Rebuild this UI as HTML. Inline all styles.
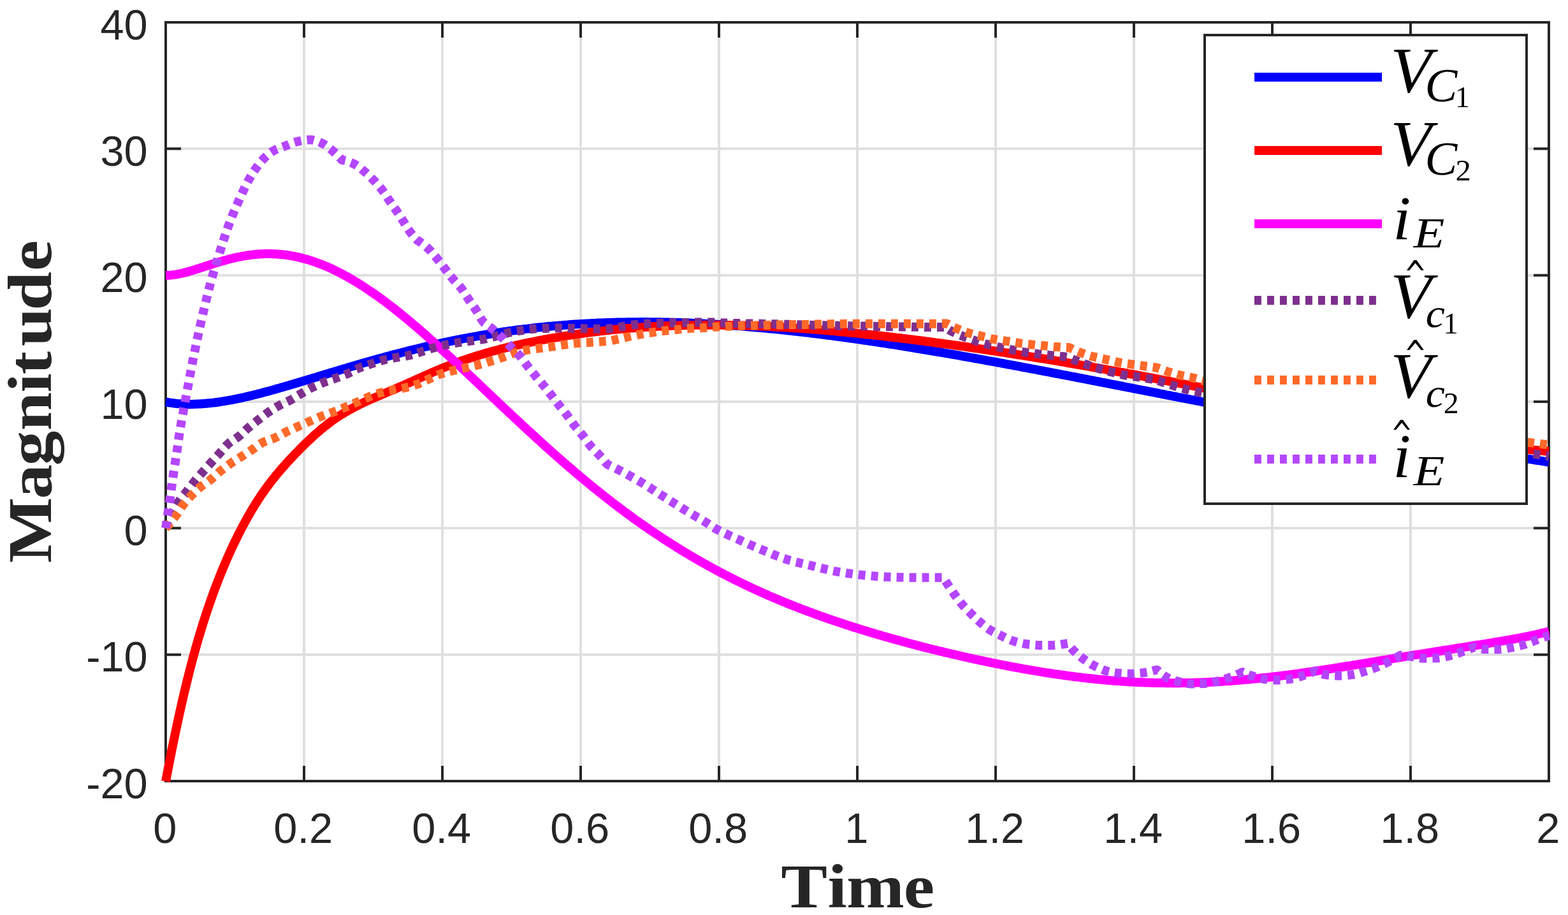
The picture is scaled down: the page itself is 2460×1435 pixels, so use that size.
<!DOCTYPE html>
<html lang="en"><head><meta charset="utf-8"><title>Magnitude vs Time</title>
<style>html,body{margin:0;padding:0;background:#fff;}body{width:2460px;height:1435px;overflow:hidden;}svg{display:block;}.tk{font-family:"Liberation Sans",Arial,Helvetica,sans-serif;font-size:66.7px;fill:#262626;}.lb{font-family:"Liberation Serif","Times New Roman",serif;font-weight:bold;fill:#262626;font-kerning:none;}.mi{font-family:"Liberation Serif","Times New Roman",serif;font-style:italic;fill:#000;}.mr{font-family:"Liberation Serif","Times New Roman",serif;fill:#000;}.mh{font-family:"DejaVu Sans","Liberation Sans",sans-serif;fill:#000;}</style></head><body>
<svg width="2460" height="1435" viewBox="0 0 2460 1435">
<rect x="0" y="0" width="2460" height="1435" fill="#ffffff"/>
<path d="M260.00,35 V1225 M477.00,35 V1225 M694.00,35 V1225 M911.00,35 V1225 M1128.00,35 V1225 M1345.00,35 V1225 M1562.00,35 V1225 M1779.00,35 V1225 M1996.00,35 V1225 M2213.00,35 V1225 M2430.00,35 V1225 M260,35.00 H2430 M260,233.33 H2430 M260,431.67 H2430 M260,630.00 H2430 M260,828.33 H2430 M260,1026.67 H2430 M260,1225.00 H2430" stroke="#dfdfdf" stroke-width="4" fill="none"/>
<path d="M260.00,1225 v-24.0 M260.00,35 v24.0 M477.00,1225 v-24.0 M477.00,35 v24.0 M694.00,1225 v-24.0 M694.00,35 v24.0 M911.00,1225 v-24.0 M911.00,35 v24.0 M1128.00,1225 v-24.0 M1128.00,35 v24.0 M1345.00,1225 v-24.0 M1345.00,35 v24.0 M1562.00,1225 v-24.0 M1562.00,35 v24.0 M1779.00,1225 v-24.0 M1779.00,35 v24.0 M1996.00,1225 v-24.0 M1996.00,35 v24.0 M2213.00,1225 v-24.0 M2213.00,35 v24.0 M2430.00,1225 v-24.0 M2430.00,35 v24.0 M260,35.00 h24.0 M2430,35.00 h-24.0 M260,233.33 h24.0 M2430,233.33 h-24.0 M260,431.67 h24.0 M2430,431.67 h-24.0 M260,630.00 h24.0 M2430,630.00 h-24.0 M260,828.33 h24.0 M2430,828.33 h-24.0 M260,1026.67 h24.0 M2430,1026.67 h-24.0 M260,1225.00 h24.0 M2430,1225.00 h-24.0" stroke="#262626" stroke-width="4" fill="none"/>
<rect x="260" y="35" width="2170" height="1190" fill="none" stroke="#262626" stroke-width="4"/>
<text class="tk" x="231.6" y="61.6" text-anchor="end">40</text>
<text class="tk" x="231.6" y="259.9" text-anchor="end">30</text>
<text class="tk" x="231.6" y="458.3" text-anchor="end">20</text>
<text class="tk" x="231.6" y="656.6" text-anchor="end">10</text>
<text class="tk" x="231.6" y="854.9" text-anchor="end">0</text>
<text class="tk" x="231.6" y="1053.3" text-anchor="end">-10</text>
<text class="tk" x="231.6" y="1251.6" text-anchor="end">-20</text>
<text class="tk" x="258.7" y="1321.6" text-anchor="middle">0</text>
<text class="tk" x="475.7" y="1321.6" text-anchor="middle">0.2</text>
<text class="tk" x="692.7" y="1321.6" text-anchor="middle">0.4</text>
<text class="tk" x="909.7" y="1321.6" text-anchor="middle">0.6</text>
<text class="tk" x="1126.7" y="1321.6" text-anchor="middle">0.8</text>
<text class="tk" x="1343.7" y="1321.6" text-anchor="middle">1</text>
<text class="tk" x="1560.7" y="1321.6" text-anchor="middle">1.2</text>
<text class="tk" x="1777.7" y="1321.6" text-anchor="middle">1.4</text>
<text class="tk" x="1994.7" y="1321.6" text-anchor="middle">1.6</text>
<text class="tk" x="2211.7" y="1321.6" text-anchor="middle">1.8</text>
<text class="tk" x="2428.7" y="1321.6" text-anchor="middle">2</text>
<text class="lb" transform="translate(0,1423) scale(1.112,1)" font-size="98" x="1101.80 1167.63 1194.15 1274.91" y="0">Time</text>
<text class="lb" transform="translate(80,881) rotate(-90) scale(1.112,1)" font-size="98" x="-1.66 88.58 135.52 184.71 238.49 264.12 303.69 354.59 410.16" y="0">Magnitude</text>
<g fill="none" stroke-linejoin="round" stroke-linecap="butt" stroke-width="14.0">
<path d="M260.0,630.5 L263.0,631.0 L266.0,631.5 L269.0,631.9 L272.0,632.3 L275.0,632.7 L278.0,633.0 L281.0,633.2 L284.0,633.5 L287.0,633.6 L290.0,633.8 L293.0,633.8 L296.0,633.9 L299.0,633.9 L302.0,633.9 L305.0,633.8 L308.0,633.7 L311.0,633.6 L314.0,633.5 L317.0,633.3 L320.0,633.1 L323.0,632.8 L326.0,632.5 L329.0,632.2 L332.0,631.9 L335.0,631.6 L338.0,631.2 L341.0,630.8 L344.0,630.3 L347.0,629.9 L350.0,629.4 L353.0,628.9 L356.0,628.4 L359.0,627.9 L362.0,627.3 L365.0,626.8 L368.0,626.2 L371.1,625.6 L374.1,624.9 L377.1,624.3 L380.1,623.7 L383.1,623.0 L386.1,622.3 L389.1,621.6 L392.1,620.9 L395.1,620.2 L398.1,619.4 L401.1,618.7 L404.1,617.9 L407.1,617.2 L410.1,616.4 L413.1,615.6 L416.1,614.8 L419.1,614.0 L422.1,613.2 L425.1,612.4 L428.1,611.5 L431.1,610.7 L434.1,609.8 L437.1,609.0 L440.1,608.1 L443.1,607.3 L446.1,606.4 L449.1,605.5 L452.1,604.7 L455.1,603.8 L458.1,602.9 L461.1,602.0 L464.1,601.1 L467.1,600.2 L470.1,599.3 L473.1,598.4 L476.1,597.5 L479.1,596.6 L482.1,595.7 L485.1,594.8 L488.1,593.9 L491.1,593.0 L494.1,592.1 L497.1,591.2 L500.1,590.3 L503.1,589.3 L506.1,588.4 L509.1,587.5 L512.1,586.6 L515.1,585.7 L518.1,584.8 L521.1,583.9 L524.1,583.0 L527.1,582.1 L530.1,581.2 L533.1,580.3 L536.1,579.4 L539.1,578.5 L542.1,577.6 L545.1,576.7 L548.1,575.8 L551.1,574.9 L554.1,574.0 L557.1,573.1 L560.1,572.3 L563.1,571.4 L566.1,570.5 L569.1,569.6 L572.1,568.8 L575.1,567.9 L578.1,567.1 L581.1,566.2 L584.1,565.4 L587.2,564.5 L590.2,563.7 L593.2,562.8 L596.2,562.0 L599.2,561.2 L602.2,560.4 L605.2,559.5 L608.2,558.7 L611.2,557.9 L614.2,557.1 L617.2,556.3 L620.2,555.5 L623.2,554.8 L626.2,554.0 L629.2,553.2 L632.2,552.4 L635.2,551.7 L638.2,550.9 L641.2,550.1 L644.2,549.4 L647.2,548.7 L650.2,547.9 L653.2,547.2 L656.2,546.5 L659.2,545.7 L662.2,545.0 L665.2,544.3 L668.2,543.6 L671.2,542.9 L674.2,542.2 L677.2,541.5 L680.2,540.9 L683.2,540.2 L686.2,539.5 L689.2,538.9 L692.2,538.2 L695.2,537.6 L698.2,536.9 L701.2,536.3 L704.2,535.7 L707.2,535.1 L710.2,534.4 L713.2,533.8 L716.2,533.2 L719.2,532.6 L722.2,532.0 L725.2,531.5 L728.2,530.9 L731.2,530.3 L734.2,529.8 L737.2,529.2 L740.2,528.6 L743.2,528.1 L746.2,527.6 L749.2,527.0 L752.2,526.5 L755.2,526.0 L758.2,525.5 L761.2,525.0 L764.2,524.5 L767.2,524.0 L770.2,523.5 L773.2,523.0 L776.2,522.6 L779.2,522.1 L782.2,521.6 L785.2,521.2 L788.2,520.7 L791.2,520.3 L794.2,519.9 L797.2,519.4 L800.2,519.0 L803.3,518.6 L806.3,518.2 L809.3,517.8 L812.3,517.4 L815.3,517.0 L818.3,516.7 L821.3,516.3 L824.3,515.9 L827.3,515.6 L830.3,515.2 L833.3,514.9 L836.3,514.5 L839.3,514.2 L842.3,513.8 L845.3,513.5 L848.3,513.2 L851.3,512.9 L854.3,512.6 L857.3,512.3 L860.3,512.0 L863.3,511.7 L866.3,511.5 L869.3,511.2 L872.3,510.9 L875.3,510.7 L878.3,510.4 L881.3,510.2 L884.3,509.9 L887.3,509.7 L890.3,509.5 L893.3,509.2 L896.3,509.0 L899.3,508.8 L902.3,508.6 L905.3,508.4 L908.3,508.2 L911.3,508.0 L914.3,507.9 L917.3,507.7 L920.3,507.5 L923.3,507.4 L926.3,507.2 L929.3,507.0 L932.3,506.9 L935.3,506.8 L938.3,506.6 L941.3,506.5 L944.3,506.4 L947.3,506.3 L950.3,506.2 L953.3,506.1 L956.3,506.0 L959.3,505.9 L962.3,505.8 L965.3,505.7 L968.3,505.6 L971.3,505.6 L974.3,505.5 L977.3,505.4 L980.3,505.4 L983.3,505.3 L986.3,505.3 L989.3,505.3 L992.3,505.2 L995.3,505.2 L998.3,505.2 L1001.3,505.2 L1004.3,505.1 L1007.3,505.1 L1010.3,505.1 L1013.3,505.1 L1016.3,505.2 L1019.3,505.2 L1022.4,505.2 L1025.4,505.2 L1028.4,505.3 L1031.4,505.3 L1034.4,505.3 L1037.4,505.4 L1040.4,505.4 L1043.4,505.5 L1046.4,505.5 L1049.4,505.6 L1052.4,505.7 L1055.4,505.8 L1058.4,505.8 L1061.4,505.9 L1064.4,506.0 L1067.4,506.1 L1070.4,506.2 L1073.4,506.3 L1076.4,506.4 L1079.4,506.5 L1082.4,506.6 L1085.4,506.8 L1088.4,506.9 L1091.4,507.0 L1094.4,507.2 L1097.4,507.3 L1100.4,507.5 L1103.4,507.6 L1106.4,507.8 L1109.4,507.9 L1112.4,508.1 L1115.4,508.2 L1118.4,508.4 L1121.4,508.6 L1124.4,508.8 L1127.4,509.0 L1130.4,509.1 L1133.4,509.3 L1136.4,509.5 L1139.4,509.7 L1142.4,509.9 L1145.4,510.2 L1148.4,510.4 L1151.4,510.6 L1154.4,510.8 L1157.4,511.0 L1160.4,511.3 L1163.4,511.5 L1166.4,511.7 L1169.4,512.0 L1172.4,512.2 L1175.4,512.5 L1178.4,512.7 L1181.4,513.0 L1184.4,513.2 L1187.4,513.5 L1190.4,513.8 L1193.4,514.0 L1196.4,514.3 L1199.4,514.6 L1202.4,514.9 L1205.4,515.2 L1208.4,515.4 L1211.4,515.7 L1214.4,516.0 L1217.4,516.3 L1220.4,516.6 L1223.4,516.9 L1226.4,517.3 L1229.4,517.6 L1232.4,517.9 L1235.4,518.2 L1238.5,518.5 L1241.5,518.9 L1244.5,519.2 L1247.5,519.5 L1250.5,519.9 L1253.5,520.2 L1256.5,520.5 L1259.5,520.9 L1262.5,521.2 L1265.5,521.6 L1268.5,521.9 L1271.5,522.3 L1274.5,522.7 L1277.5,523.0 L1280.5,523.4 L1283.5,523.8 L1286.5,524.1 L1289.5,524.5 L1292.5,524.9 L1295.5,525.3 L1298.5,525.7 L1301.5,526.0 L1304.5,526.4 L1307.5,526.8 L1310.5,527.2 L1313.5,527.6 L1316.5,528.0 L1319.5,528.4 L1322.5,528.8 L1325.5,529.2 L1328.5,529.6 L1331.5,530.1 L1334.5,530.5 L1337.5,530.9 L1340.5,531.3 L1343.5,531.7 L1346.5,532.2 L1349.5,532.6 L1352.5,533.0 L1355.5,533.5 L1358.5,533.9 L1361.5,534.3 L1364.5,534.8 L1367.5,535.2 L1370.5,535.7 L1373.5,536.1 L1376.5,536.6 L1379.5,537.0 L1382.5,537.5 L1385.5,537.9 L1388.5,538.4 L1391.5,538.8 L1394.5,539.3 L1397.5,539.8 L1400.5,540.2 L1403.5,540.7 L1406.5,541.2 L1409.5,541.7 L1412.5,542.1 L1415.5,542.6 L1418.5,543.1 L1421.5,543.6 L1424.5,544.1 L1427.5,544.5 L1430.5,545.0 L1433.5,545.5 L1436.5,546.0 L1439.5,546.5 L1442.5,547.0 L1445.5,547.5 L1448.5,548.0 L1451.5,548.5 L1454.6,549.0 L1457.6,549.5 L1460.6,550.0 L1463.6,550.5 L1466.6,551.0 L1469.6,551.5 L1472.6,552.0 L1475.6,552.5 L1478.6,553.0 L1481.6,553.6 L1484.6,554.1 L1487.6,554.6 L1490.6,555.1 L1493.6,555.6 L1496.6,556.2 L1499.6,556.7 L1502.6,557.2 L1505.6,557.7 L1508.6,558.3 L1511.6,558.8 L1514.6,559.3 L1517.6,559.9 L1520.6,560.4 L1523.6,560.9 L1526.6,561.5 L1529.6,562.0 L1532.6,562.5 L1535.6,563.1 L1538.6,563.6 L1541.6,564.2 L1544.6,564.7 L1547.6,565.3 L1550.6,565.8 L1553.6,566.3 L1556.6,566.9 L1559.6,567.4 L1562.6,568.0 L1565.6,568.5 L1568.6,569.1 L1571.6,569.6 L1574.6,570.2 L1577.6,570.8 L1580.6,571.3 L1583.6,571.9 L1586.6,572.4 L1589.6,573.0 L1592.6,573.5 L1595.6,574.1 L1598.6,574.7 L1601.6,575.2 L1604.6,575.8 L1607.6,576.4 L1610.6,576.9 L1613.6,577.5 L1616.6,578.0 L1619.6,578.6 L1622.6,579.2 L1625.6,579.7 L1628.6,580.3 L1631.6,580.9 L1634.6,581.5 L1637.6,582.0 L1640.6,582.6 L1643.6,583.2 L1646.6,583.7 L1649.6,584.3 L1652.6,584.9 L1655.6,585.5 L1658.6,586.0 L1661.6,586.6 L1664.6,587.2 L1667.6,587.8 L1670.7,588.3 L1673.7,588.9 L1676.7,589.5 L1679.7,590.1 L1682.7,590.7 L1685.7,591.2 L1688.7,591.8 L1691.7,592.4 L1694.7,593.0 L1697.7,593.5 L1700.7,594.1 L1703.7,594.7 L1706.7,595.3 L1709.7,595.9 L1712.7,596.5 L1715.7,597.0 L1718.7,597.6 L1721.7,598.2 L1724.7,598.8 L1727.7,599.4 L1730.7,600.0 L1733.7,600.5 L1736.7,601.1 L1739.7,601.7 L1742.7,602.3 L1745.7,602.9 L1748.7,603.5 L1751.7,604.0 L1754.7,604.6 L1757.7,605.2 L1760.7,605.8 L1763.7,606.4 L1766.7,607.0 L1769.7,607.6 L1772.7,608.1 L1775.7,608.7 L1778.7,609.3 L1781.7,609.9 L1784.7,610.5 L1787.7,611.1 L1790.7,611.7 L1793.7,612.2 L1796.7,612.8 L1799.7,613.4 L1802.7,614.0 L1805.7,614.6 L1808.7,615.2 L1811.7,615.7 L1814.7,616.3 L1817.7,616.9 L1820.7,617.5 L1823.7,618.1 L1826.7,618.7 L1829.7,619.3 L1832.7,619.8 L1835.7,620.4 L1838.7,621.0 L1841.7,621.6 L1844.7,622.2 L1847.7,622.8 L1850.7,623.3 L1853.7,623.9 L1856.7,624.5 L1859.7,625.1 L1862.7,625.7 L1865.7,626.2 L1868.7,626.8 L1871.7,627.4 L1874.7,628.0 L1877.7,628.6 L1880.7,629.1 L1883.7,629.7 L1886.7,630.3 L1889.8,630.9 L1892.8,631.5 L1895.8,632.0 L1898.8,632.6 L1901.8,633.2 L1904.8,633.8 L1907.8,634.3 L1910.8,634.9 L1913.8,635.5 L1916.8,636.1 L1919.8,636.7 L1922.8,637.2 L1925.8,637.8 L1928.8,638.4 L1931.8,638.9 L1934.8,639.5 L1937.8,640.1 L1940.8,640.7 L1943.8,641.2 L1946.8,641.8 L1949.8,642.4 L1952.8,642.9 L1955.8,643.5 L1958.8,644.1 L1961.8,644.7 L1964.8,645.2 L1967.8,645.8 L1970.8,646.4 L1973.8,646.9 L1976.8,647.5 L1979.8,648.0 L1982.8,648.6 L1985.8,649.2 L1988.8,649.7 L1991.8,650.3 L1994.8,650.9 L1997.8,651.4 L2000.8,652.0 L2003.8,652.5 L2006.8,653.1 L2009.8,653.7 L2012.8,654.2 L2015.8,654.8 L2018.8,655.3 L2021.8,655.9 L2024.8,656.5 L2027.8,657.0 L2030.8,657.6 L2033.8,658.1 L2036.8,658.7 L2039.8,659.2 L2042.8,659.8 L2045.8,660.3 L2048.8,660.9 L2051.8,661.4 L2054.8,662.0 L2057.8,662.5 L2060.8,663.1 L2063.8,663.6 L2066.8,664.2 L2069.8,664.7 L2072.8,665.3 L2075.8,665.8 L2078.8,666.3 L2081.8,666.9 L2084.8,667.4 L2087.8,668.0 L2090.8,668.5 L2093.8,669.1 L2096.8,669.6 L2099.8,670.1 L2102.8,670.7 L2105.9,671.2 L2108.9,671.7 L2111.9,672.3 L2114.9,672.8 L2117.9,673.3 L2120.9,673.9 L2123.9,674.4 L2126.9,674.9 L2129.9,675.5 L2132.9,676.0 L2135.9,676.5 L2138.9,677.1 L2141.9,677.6 L2144.9,678.1 L2147.9,678.6 L2150.9,679.2 L2153.9,679.7 L2156.9,680.2 L2159.9,680.7 L2162.9,681.3 L2165.9,681.8 L2168.9,682.3 L2171.9,682.8 L2174.9,683.3 L2177.9,683.9 L2180.9,684.4 L2183.9,684.9 L2186.9,685.4 L2189.9,685.9 L2192.9,686.4 L2195.9,687.0 L2198.9,687.5 L2201.9,688.0 L2204.9,688.5 L2207.9,689.0 L2210.9,689.5 L2213.9,690.0 L2216.9,690.5 L2219.9,691.0 L2222.9,691.6 L2225.9,692.1 L2228.9,692.6 L2231.9,693.1 L2234.9,693.6 L2237.9,694.1 L2240.9,694.6 L2243.9,695.1 L2246.9,695.6 L2249.9,696.1 L2252.9,696.6 L2255.9,697.1 L2258.9,697.6 L2261.9,698.1 L2264.9,698.6 L2267.9,699.1 L2270.9,699.6 L2273.9,700.0 L2276.9,700.5 L2279.9,701.0 L2282.9,701.5 L2285.9,702.0 L2288.9,702.5 L2291.9,703.0 L2294.9,703.5 L2297.9,704.0 L2300.9,704.5 L2303.9,704.9 L2306.9,705.4 L2309.9,705.9 L2312.9,706.4 L2315.9,706.9 L2318.9,707.4 L2322.0,707.8 L2325.0,708.3 L2328.0,708.8 L2331.0,709.3 L2334.0,709.8 L2337.0,710.2 L2340.0,710.7 L2343.0,711.2 L2346.0,711.7 L2349.0,712.1 L2352.0,712.6 L2355.0,713.1 L2358.0,713.6 L2361.0,714.0 L2364.0,714.5 L2367.0,715.0 L2370.0,715.5 L2373.0,715.9 L2376.0,716.4 L2379.0,716.9 L2382.0,717.3 L2385.0,717.8 L2388.0,718.3 L2391.0,718.7 L2394.0,719.2 L2397.0,719.7 L2400.0,720.1 L2403.0,720.6 L2406.0,721.0 L2409.0,721.5 L2412.0,722.0 L2415.0,722.4 L2418.0,722.9 L2421.0,723.3 L2424.0,723.8 L2427.0,724.3 L2430.0,724.7" stroke="#0000ff"/>
<path d="M260.0,1225.5 L263.0,1209.6 L266.0,1194.1 L269.0,1178.9 L272.0,1164.1 L275.0,1149.6 L278.0,1135.5 L281.0,1121.7 L284.0,1108.2 L287.0,1095.1 L290.0,1082.4 L293.0,1070.0 L296.0,1057.9 L299.0,1046.1 L302.0,1034.7 L305.0,1023.7 L308.0,1012.9 L311.0,1002.5 L314.0,992.4 L317.0,982.6 L320.0,973.1 L323.0,963.8 L326.0,954.8 L329.0,946.1 L332.0,937.6 L335.0,929.3 L338.0,921.2 L341.0,913.4 L344.0,905.7 L347.0,898.2 L350.0,890.9 L353.0,883.7 L356.0,876.8 L359.0,870.0 L362.0,863.3 L365.0,856.8 L368.0,850.5 L371.1,844.3 L374.1,838.2 L377.1,832.3 L380.1,826.6 L383.1,821.0 L386.1,815.5 L389.1,810.1 L392.1,804.9 L395.1,799.8 L398.1,794.8 L401.1,790.0 L404.1,785.3 L407.1,780.7 L410.1,776.2 L413.1,771.9 L416.1,767.6 L419.1,763.5 L422.1,759.5 L425.1,755.5 L428.1,751.7 L431.1,747.9 L434.1,744.2 L437.1,740.7 L440.1,737.1 L443.1,733.7 L446.1,730.3 L449.1,726.9 L452.1,723.6 L455.1,720.4 L458.1,717.2 L461.1,714.0 L464.1,710.9 L467.1,707.8 L470.1,704.8 L473.1,701.8 L476.1,698.8 L479.1,695.8 L482.1,693.0 L485.1,690.1 L488.1,687.3 L491.1,684.5 L494.1,681.8 L497.1,679.2 L500.1,676.6 L503.1,674.0 L506.1,671.5 L509.1,669.1 L512.1,666.7 L515.1,664.4 L518.1,662.1 L521.1,659.9 L524.1,657.8 L527.1,655.7 L530.1,653.7 L533.1,651.8 L536.1,649.9 L539.1,648.1 L542.1,646.3 L545.1,644.6 L548.1,642.9 L551.1,641.2 L554.1,639.6 L557.1,638.0 L560.1,636.5 L563.1,635.0 L566.1,633.5 L569.1,632.1 L572.1,630.6 L575.1,629.2 L578.1,627.9 L581.1,626.5 L584.1,625.2 L587.2,623.9 L590.2,622.6 L593.2,621.3 L596.2,620.0 L599.2,618.7 L602.2,617.4 L605.2,616.2 L608.2,614.9 L611.2,613.6 L614.2,612.4 L617.2,611.1 L620.2,609.8 L623.2,608.5 L626.2,607.2 L629.2,605.9 L632.2,604.6 L635.2,603.3 L638.2,601.9 L641.2,600.6 L644.2,599.2 L647.2,597.9 L650.2,596.5 L653.2,595.2 L656.2,593.8 L659.2,592.5 L662.2,591.1 L665.2,589.8 L668.2,588.4 L671.2,587.1 L674.2,585.8 L677.2,584.5 L680.2,583.2 L683.2,581.9 L686.2,580.6 L689.2,579.4 L692.2,578.1 L695.2,576.9 L698.2,575.7 L701.2,574.5 L704.2,573.4 L707.2,572.2 L710.2,571.1 L713.2,570.0 L716.2,568.9 L719.2,567.8 L722.2,566.7 L725.2,565.7 L728.2,564.6 L731.2,563.6 L734.2,562.6 L737.2,561.6 L740.2,560.6 L743.2,559.7 L746.2,558.7 L749.2,557.8 L752.2,556.9 L755.2,556.0 L758.2,555.1 L761.2,554.2 L764.2,553.3 L767.2,552.5 L770.2,551.6 L773.2,550.8 L776.2,550.0 L779.2,549.2 L782.2,548.4 L785.2,547.6 L788.2,546.8 L791.2,546.1 L794.2,545.3 L797.2,544.6 L800.2,543.9 L803.3,543.2 L806.3,542.4 L809.3,541.8 L812.3,541.1 L815.3,540.4 L818.3,539.7 L821.3,539.1 L824.3,538.4 L827.3,537.8 L830.3,537.2 L833.3,536.6 L836.3,536.0 L839.3,535.4 L842.3,534.8 L845.3,534.2 L848.3,533.6 L851.3,533.0 L854.3,532.5 L857.3,531.9 L860.3,531.4 L863.3,530.9 L866.3,530.3 L869.3,529.8 L872.3,529.3 L875.3,528.8 L878.3,528.3 L881.3,527.8 L884.3,527.3 L887.3,526.8 L890.3,526.4 L893.3,525.9 L896.3,525.4 L899.3,525.0 L902.3,524.5 L905.3,524.1 L908.3,523.7 L911.3,523.3 L914.3,522.8 L917.3,522.4 L920.3,522.0 L923.3,521.6 L926.3,521.2 L929.3,520.9 L932.3,520.5 L935.3,520.1 L938.3,519.8 L941.3,519.4 L944.3,519.1 L947.3,518.7 L950.3,518.4 L953.3,518.0 L956.3,517.7 L959.3,517.4 L962.3,517.1 L965.3,516.8 L968.3,516.5 L971.3,516.2 L974.3,515.9 L977.3,515.7 L980.3,515.4 L983.3,515.1 L986.3,514.9 L989.3,514.6 L992.3,514.4 L995.3,514.2 L998.3,513.9 L1001.3,513.7 L1004.3,513.5 L1007.3,513.3 L1010.3,513.1 L1013.3,512.9 L1016.3,512.7 L1019.3,512.5 L1022.4,512.3 L1025.4,512.1 L1028.4,512.0 L1031.4,511.8 L1034.4,511.7 L1037.4,511.5 L1040.4,511.4 L1043.4,511.2 L1046.4,511.1 L1049.4,511.0 L1052.4,510.9 L1055.4,510.7 L1058.4,510.6 L1061.4,510.5 L1064.4,510.4 L1067.4,510.3 L1070.4,510.3 L1073.4,510.2 L1076.4,510.1 L1079.4,510.0 L1082.4,510.0 L1085.4,509.9 L1088.4,509.9 L1091.4,509.8 L1094.4,509.8 L1097.4,509.8 L1100.4,509.7 L1103.4,509.7 L1106.4,509.7 L1109.4,509.7 L1112.4,509.7 L1115.4,509.7 L1118.4,509.7 L1121.4,509.7 L1124.4,509.7 L1127.4,509.7 L1130.4,509.8 L1133.4,509.8 L1136.4,509.8 L1139.4,509.9 L1142.4,509.9 L1145.4,510.0 L1148.4,510.0 L1151.4,510.1 L1154.4,510.1 L1157.4,510.2 L1160.4,510.3 L1163.4,510.4 L1166.4,510.5 L1169.4,510.6 L1172.4,510.6 L1175.4,510.7 L1178.4,510.8 L1181.4,511.0 L1184.4,511.1 L1187.4,511.2 L1190.4,511.3 L1193.4,511.4 L1196.4,511.6 L1199.4,511.7 L1202.4,511.8 L1205.4,512.0 L1208.4,512.1 L1211.4,512.3 L1214.4,512.4 L1217.4,512.6 L1220.4,512.8 L1223.4,512.9 L1226.4,513.1 L1229.4,513.3 L1232.4,513.5 L1235.4,513.6 L1238.5,513.8 L1241.5,514.0 L1244.5,514.2 L1247.5,514.4 L1250.5,514.6 L1253.5,514.8 L1256.5,515.0 L1259.5,515.3 L1262.5,515.5 L1265.5,515.7 L1268.5,515.9 L1271.5,516.1 L1274.5,516.4 L1277.5,516.6 L1280.5,516.9 L1283.5,517.1 L1286.5,517.3 L1289.5,517.6 L1292.5,517.8 L1295.5,518.1 L1298.5,518.4 L1301.5,518.6 L1304.5,518.9 L1307.5,519.1 L1310.5,519.4 L1313.5,519.7 L1316.5,520.0 L1319.5,520.2 L1322.5,520.5 L1325.5,520.8 L1328.5,521.1 L1331.5,521.4 L1334.5,521.7 L1337.5,522.0 L1340.5,522.3 L1343.5,522.6 L1346.5,522.9 L1349.5,523.2 L1352.5,523.5 L1355.5,523.8 L1358.5,524.2 L1361.5,524.5 L1364.5,524.8 L1367.5,525.1 L1370.5,525.4 L1373.5,525.8 L1376.5,526.1 L1379.5,526.4 L1382.5,526.8 L1385.5,527.1 L1388.5,527.5 L1391.5,527.8 L1394.5,528.2 L1397.5,528.5 L1400.5,528.9 L1403.5,529.2 L1406.5,529.6 L1409.5,529.9 L1412.5,530.3 L1415.5,530.7 L1418.5,531.0 L1421.5,531.4 L1424.5,531.8 L1427.5,532.1 L1430.5,532.5 L1433.5,532.9 L1436.5,533.3 L1439.5,533.6 L1442.5,534.0 L1445.5,534.4 L1448.5,534.8 L1451.5,535.2 L1454.6,535.6 L1457.6,536.0 L1460.6,536.4 L1463.6,536.8 L1466.6,537.2 L1469.6,537.6 L1472.6,538.0 L1475.6,538.4 L1478.6,538.8 L1481.6,539.2 L1484.6,539.6 L1487.6,540.0 L1490.6,540.4 L1493.6,540.8 L1496.6,541.3 L1499.6,541.7 L1502.6,542.1 L1505.6,542.5 L1508.6,542.9 L1511.6,543.4 L1514.6,543.8 L1517.6,544.2 L1520.6,544.7 L1523.6,545.1 L1526.6,545.5 L1529.6,546.0 L1532.6,546.4 L1535.6,546.8 L1538.6,547.3 L1541.6,547.7 L1544.6,548.2 L1547.6,548.6 L1550.6,549.1 L1553.6,549.5 L1556.6,550.0 L1559.6,550.4 L1562.6,550.9 L1565.6,551.3 L1568.6,551.8 L1571.6,552.2 L1574.6,552.7 L1577.6,553.2 L1580.6,553.6 L1583.6,554.1 L1586.6,554.6 L1589.6,555.0 L1592.6,555.5 L1595.6,556.0 L1598.6,556.5 L1601.6,556.9 L1604.6,557.4 L1607.6,557.9 L1610.6,558.4 L1613.6,558.8 L1616.6,559.3 L1619.6,559.8 L1622.6,560.3 L1625.6,560.8 L1628.6,561.3 L1631.6,561.8 L1634.6,562.2 L1637.6,562.7 L1640.6,563.2 L1643.6,563.7 L1646.6,564.2 L1649.6,564.7 L1652.6,565.2 L1655.6,565.7 L1658.6,566.2 L1661.6,566.7 L1664.6,567.2 L1667.6,567.7 L1670.7,568.2 L1673.7,568.8 L1676.7,569.3 L1679.7,569.8 L1682.7,570.3 L1685.7,570.8 L1688.7,571.3 L1691.7,571.8 L1694.7,572.4 L1697.7,572.9 L1700.7,573.4 L1703.7,573.9 L1706.7,574.4 L1709.7,575.0 L1712.7,575.5 L1715.7,576.0 L1718.7,576.6 L1721.7,577.1 L1724.7,577.6 L1727.7,578.2 L1730.7,578.7 L1733.7,579.2 L1736.7,579.8 L1739.7,580.3 L1742.7,580.8 L1745.7,581.4 L1748.7,581.9 L1751.7,582.5 L1754.7,583.0 L1757.7,583.6 L1760.7,584.1 L1763.7,584.7 L1766.7,585.2 L1769.7,585.8 L1772.7,586.3 L1775.7,586.9 L1778.7,587.4 L1781.7,588.0 L1784.7,588.5 L1787.7,589.1 L1790.7,589.7 L1793.7,590.2 L1796.7,590.8 L1799.7,591.3 L1802.7,591.9 L1805.7,592.5 L1808.7,593.0 L1811.7,593.6 L1814.7,594.2 L1817.7,594.8 L1820.7,595.3 L1823.7,595.9 L1826.7,596.5 L1829.7,597.1 L1832.7,597.6 L1835.7,598.2 L1838.7,598.8 L1841.7,599.4 L1844.7,600.0 L1847.7,600.5 L1850.7,601.1 L1853.7,601.7 L1856.7,602.3 L1859.7,602.9 L1862.7,603.5 L1865.7,604.1 L1868.7,604.6 L1871.7,605.2 L1874.7,605.8 L1877.7,606.4 L1880.7,607.0 L1883.7,607.6 L1886.7,608.2 L1889.8,608.8 L1892.8,609.4 L1895.8,610.0 L1898.8,610.6 L1901.8,611.2 L1904.8,611.8 L1907.8,612.4 L1910.8,613.0 L1913.8,613.6 L1916.8,614.2 L1919.8,614.8 L1922.8,615.5 L1925.8,616.1 L1928.8,616.7 L1931.8,617.3 L1934.8,617.9 L1937.8,618.5 L1940.8,619.1 L1943.8,619.7 L1946.8,620.4 L1949.8,621.0 L1952.8,621.6 L1955.8,622.2 L1958.8,622.8 L1961.8,623.4 L1964.8,624.1 L1967.8,624.7 L1970.8,625.3 L1973.8,625.9 L1976.8,626.6 L1979.8,627.2 L1982.8,627.8 L1985.8,628.4 L1988.8,629.1 L1991.8,629.7 L1994.8,630.3 L1997.8,630.9 L2000.8,631.6 L2003.8,632.2 L2006.8,632.8 L2009.8,633.4 L2012.8,634.1 L2015.8,634.7 L2018.8,635.3 L2021.8,636.0 L2024.8,636.6 L2027.8,637.2 L2030.8,637.9 L2033.8,638.5 L2036.8,639.1 L2039.8,639.8 L2042.8,640.4 L2045.8,641.0 L2048.8,641.7 L2051.8,642.3 L2054.8,642.9 L2057.8,643.6 L2060.8,644.2 L2063.8,644.8 L2066.8,645.5 L2069.8,646.1 L2072.8,646.7 L2075.8,647.4 L2078.8,648.0 L2081.8,648.6 L2084.8,649.3 L2087.8,649.9 L2090.8,650.5 L2093.8,651.2 L2096.8,651.8 L2099.8,652.4 L2102.8,653.0 L2105.9,653.7 L2108.9,654.3 L2111.9,654.9 L2114.9,655.6 L2117.9,656.2 L2120.9,656.8 L2123.9,657.5 L2126.9,658.1 L2129.9,658.7 L2132.9,659.3 L2135.9,660.0 L2138.9,660.6 L2141.9,661.2 L2144.9,661.8 L2147.9,662.4 L2150.9,663.1 L2153.9,663.7 L2156.9,664.3 L2159.9,664.9 L2162.9,665.5 L2165.9,666.1 L2168.9,666.8 L2171.9,667.4 L2174.9,668.0 L2177.9,668.6 L2180.9,669.2 L2183.9,669.8 L2186.9,670.4 L2189.9,671.0 L2192.9,671.6 L2195.9,672.2 L2198.9,672.8 L2201.9,673.4 L2204.9,674.0 L2207.9,674.6 L2210.9,675.2 L2213.9,675.8 L2216.9,676.3 L2219.9,676.9 L2222.9,677.5 L2225.9,678.1 L2228.9,678.7 L2231.9,679.2 L2234.9,679.8 L2237.9,680.4 L2240.9,680.9 L2243.9,681.5 L2246.9,682.1 L2249.9,682.6 L2252.9,683.2 L2255.9,683.7 L2258.9,684.3 L2261.9,684.8 L2264.9,685.4 L2267.9,685.9 L2270.9,686.4 L2273.9,687.0 L2276.9,687.5 L2279.9,688.0 L2282.9,688.5 L2285.9,689.1 L2288.9,689.6 L2291.9,690.1 L2294.9,690.6 L2297.9,691.1 L2300.9,691.6 L2303.9,692.1 L2306.9,692.6 L2309.9,693.1 L2312.9,693.5 L2315.9,694.0 L2318.9,694.5 L2322.0,695.0 L2325.0,695.4 L2328.0,695.9 L2331.0,696.3 L2334.0,696.8 L2337.0,697.2 L2340.0,697.7 L2343.0,698.1 L2346.0,698.5 L2349.0,698.9 L2352.0,699.4 L2355.0,699.8 L2358.0,700.2 L2361.0,700.6 L2364.0,701.0 L2367.0,701.3 L2370.0,701.7 L2373.0,702.1 L2376.0,702.5 L2379.0,702.8 L2382.0,703.2 L2385.0,703.5 L2388.0,703.9 L2391.0,704.2 L2394.0,704.5 L2397.0,704.9 L2400.0,705.2 L2403.0,705.5 L2406.0,705.8 L2409.0,706.1 L2412.0,706.3 L2415.0,706.6 L2418.0,706.9 L2421.0,707.2 L2424.0,707.4 L2427.0,707.6 L2430.0,707.9" stroke="#ff0000"/>
<path d="M260.0,431.9 L263.0,431.8 L266.0,431.7 L269.0,431.4 L272.0,431.0 L275.0,430.6 L278.0,430.1 L281.0,429.5 L284.0,428.9 L287.0,428.2 L290.0,427.4 L293.0,426.7 L296.0,425.8 L299.0,425.0 L302.0,424.1 L305.0,423.2 L308.0,422.2 L311.0,421.3 L314.0,420.3 L317.0,419.4 L320.0,418.4 L323.0,417.4 L326.0,416.4 L329.0,415.5 L332.0,414.5 L335.0,413.6 L338.0,412.6 L341.0,411.7 L344.0,410.8 L347.0,409.9 L350.0,409.1 L353.0,408.2 L356.0,407.4 L359.0,406.6 L362.0,405.8 L365.0,405.1 L368.0,404.4 L371.1,403.7 L374.1,403.1 L377.1,402.5 L380.1,401.9 L383.1,401.4 L386.1,400.9 L389.1,400.4 L392.1,400.0 L395.1,399.6 L398.1,399.3 L401.1,399.0 L404.1,398.7 L407.1,398.5 L410.1,398.3 L413.1,398.2 L416.1,398.1 L419.1,398.0 L422.1,398.0 L425.1,398.1 L428.1,398.2 L431.1,398.3 L434.1,398.4 L437.1,398.7 L440.1,398.9 L443.1,399.2 L446.1,399.5 L449.1,399.9 L452.1,400.4 L455.1,400.8 L458.1,401.4 L461.1,401.9 L464.1,402.5 L467.1,403.2 L470.1,403.9 L473.1,404.6 L476.1,405.4 L479.1,406.2 L482.1,407.0 L485.1,407.9 L488.1,408.9 L491.1,409.9 L494.1,410.9 L497.1,412.0 L500.1,413.1 L503.1,414.2 L506.1,415.4 L509.1,416.6 L512.1,417.9 L515.1,419.2 L518.1,420.5 L521.1,421.9 L524.1,423.3 L527.1,424.8 L530.1,426.3 L533.1,427.8 L536.1,429.4 L539.1,431.0 L542.1,432.6 L545.1,434.2 L548.1,435.9 L551.1,437.7 L554.1,439.4 L557.1,441.2 L560.1,443.1 L563.1,444.9 L566.1,446.8 L569.1,448.7 L572.1,450.7 L575.1,452.7 L578.1,454.7 L581.1,456.7 L584.1,458.8 L587.2,460.9 L590.2,463.0 L593.2,465.1 L596.2,467.3 L599.2,469.5 L602.2,471.7 L605.2,473.9 L608.2,476.2 L611.2,478.5 L614.2,480.8 L617.2,483.1 L620.2,485.5 L623.2,487.9 L626.2,490.3 L629.2,492.7 L632.2,495.1 L635.2,497.6 L638.2,500.1 L641.2,502.6 L644.2,505.1 L647.2,507.6 L650.2,510.2 L653.2,512.7 L656.2,515.3 L659.2,517.9 L662.2,520.5 L665.2,523.1 L668.2,525.8 L671.2,528.4 L674.2,531.1 L677.2,533.7 L680.2,536.4 L683.2,539.1 L686.2,541.8 L689.2,544.5 L692.2,547.3 L695.2,550.0 L698.2,552.8 L701.2,555.5 L704.2,558.3 L707.2,561.0 L710.2,563.8 L713.2,566.6 L716.2,569.4 L719.2,572.2 L722.2,575.0 L725.2,577.8 L728.2,580.6 L731.2,583.4 L734.2,586.3 L737.2,589.1 L740.2,591.9 L743.2,594.8 L746.2,597.6 L749.2,600.4 L752.2,603.3 L755.2,606.1 L758.2,609.0 L761.2,611.8 L764.2,614.6 L767.2,617.5 L770.2,620.3 L773.2,623.2 L776.2,626.0 L779.2,628.8 L782.2,631.7 L785.2,634.5 L788.2,637.3 L791.2,640.2 L794.2,643.0 L797.2,645.8 L800.2,648.6 L803.3,651.5 L806.3,654.3 L809.3,657.1 L812.3,659.9 L815.3,662.7 L818.3,665.5 L821.3,668.3 L824.3,671.0 L827.3,673.8 L830.3,676.6 L833.3,679.3 L836.3,682.1 L839.3,684.8 L842.3,687.6 L845.3,690.3 L848.3,693.0 L851.3,695.8 L854.3,698.5 L857.3,701.2 L860.3,703.9 L863.3,706.6 L866.3,709.2 L869.3,711.9 L872.3,714.6 L875.3,717.2 L878.3,719.8 L881.3,722.5 L884.3,725.1 L887.3,727.7 L890.3,730.3 L893.3,732.9 L896.3,735.4 L899.3,738.0 L902.3,740.6 L905.3,743.1 L908.3,745.6 L911.3,748.2 L914.3,750.7 L917.3,753.2 L920.3,755.7 L923.3,758.1 L926.3,760.6 L929.3,763.0 L932.3,765.5 L935.3,767.9 L938.3,770.3 L941.3,772.7 L944.3,775.1 L947.3,777.5 L950.3,779.9 L953.3,782.2 L956.3,784.5 L959.3,786.9 L962.3,789.2 L965.3,791.5 L968.3,793.8 L971.3,796.0 L974.3,798.3 L977.3,800.6 L980.3,802.8 L983.3,805.0 L986.3,807.2 L989.3,809.4 L992.3,811.6 L995.3,813.8 L998.3,815.9 L1001.3,818.1 L1004.3,820.2 L1007.3,822.3 L1010.3,824.4 L1013.3,826.5 L1016.3,828.6 L1019.3,830.6 L1022.4,832.7 L1025.4,834.7 L1028.4,836.7 L1031.4,838.8 L1034.4,840.8 L1037.4,842.7 L1040.4,844.7 L1043.4,846.7 L1046.4,848.6 L1049.4,850.5 L1052.4,852.4 L1055.4,854.3 L1058.4,856.2 L1061.4,858.1 L1064.4,860.0 L1067.4,861.8 L1070.4,863.7 L1073.4,865.5 L1076.4,867.3 L1079.4,869.1 L1082.4,870.9 L1085.4,872.7 L1088.4,874.4 L1091.4,876.2 L1094.4,877.9 L1097.4,879.6 L1100.4,881.3 L1103.4,883.0 L1106.4,884.7 L1109.4,886.4 L1112.4,888.0 L1115.4,889.7 L1118.4,891.3 L1121.4,892.9 L1124.4,894.6 L1127.4,896.2 L1130.4,897.7 L1133.4,899.3 L1136.4,900.9 L1139.4,902.4 L1142.4,904.0 L1145.4,905.5 L1148.4,907.0 L1151.4,908.5 L1154.4,910.0 L1157.4,911.5 L1160.4,913.0 L1163.4,914.4 L1166.4,915.9 L1169.4,917.3 L1172.4,918.7 L1175.4,920.2 L1178.4,921.6 L1181.4,923.0 L1184.4,924.4 L1187.4,925.7 L1190.4,927.1 L1193.4,928.4 L1196.4,929.8 L1199.4,931.1 L1202.4,932.4 L1205.4,933.8 L1208.4,935.1 L1211.4,936.4 L1214.4,937.6 L1217.4,938.9 L1220.4,940.2 L1223.4,941.4 L1226.4,942.7 L1229.4,943.9 L1232.4,945.2 L1235.4,946.4 L1238.5,947.6 L1241.5,948.8 L1244.5,950.0 L1247.5,951.2 L1250.5,952.3 L1253.5,953.5 L1256.5,954.7 L1259.5,955.8 L1262.5,956.9 L1265.5,958.1 L1268.5,959.2 L1271.5,960.3 L1274.5,961.4 L1277.5,962.5 L1280.5,963.6 L1283.5,964.7 L1286.5,965.8 L1289.5,966.8 L1292.5,967.9 L1295.5,969.0 L1298.5,970.0 L1301.5,971.1 L1304.5,972.1 L1307.5,973.1 L1310.5,974.1 L1313.5,975.1 L1316.5,976.1 L1319.5,977.1 L1322.5,978.1 L1325.5,979.1 L1328.5,980.1 L1331.5,981.1 L1334.5,982.0 L1337.5,983.0 L1340.5,984.0 L1343.5,984.9 L1346.5,985.8 L1349.5,986.8 L1352.5,987.7 L1355.5,988.6 L1358.5,989.5 L1361.5,990.5 L1364.5,991.4 L1367.5,992.3 L1370.5,993.2 L1373.5,994.1 L1376.5,994.9 L1379.5,995.8 L1382.5,996.7 L1385.5,997.6 L1388.5,998.4 L1391.5,999.3 L1394.5,1000.1 L1397.5,1001.0 L1400.5,1001.8 L1403.5,1002.7 L1406.5,1003.5 L1409.5,1004.3 L1412.5,1005.1 L1415.5,1006.0 L1418.5,1006.8 L1421.5,1007.6 L1424.5,1008.4 L1427.5,1009.2 L1430.5,1010.0 L1433.5,1010.8 L1436.5,1011.6 L1439.5,1012.4 L1442.5,1013.1 L1445.5,1013.9 L1448.5,1014.7 L1451.5,1015.4 L1454.6,1016.2 L1457.6,1017.0 L1460.6,1017.7 L1463.6,1018.5 L1466.6,1019.2 L1469.6,1019.9 L1472.6,1020.7 L1475.6,1021.4 L1478.6,1022.1 L1481.6,1022.9 L1484.6,1023.6 L1487.6,1024.3 L1490.6,1025.0 L1493.6,1025.7 L1496.6,1026.4 L1499.6,1027.1 L1502.6,1027.8 L1505.6,1028.5 L1508.6,1029.2 L1511.6,1029.9 L1514.6,1030.5 L1517.6,1031.2 L1520.6,1031.9 L1523.6,1032.5 L1526.6,1033.2 L1529.6,1033.9 L1532.6,1034.5 L1535.6,1035.2 L1538.6,1035.8 L1541.6,1036.4 L1544.6,1037.1 L1547.6,1037.7 L1550.6,1038.3 L1553.6,1038.9 L1556.6,1039.6 L1559.6,1040.2 L1562.6,1040.8 L1565.6,1041.4 L1568.6,1042.0 L1571.6,1042.6 L1574.6,1043.2 L1577.6,1043.7 L1580.6,1044.3 L1583.6,1044.9 L1586.6,1045.5 L1589.6,1046.0 L1592.6,1046.6 L1595.6,1047.1 L1598.6,1047.7 L1601.6,1048.2 L1604.6,1048.8 L1607.6,1049.3 L1610.6,1049.8 L1613.6,1050.4 L1616.6,1050.9 L1619.6,1051.4 L1622.6,1051.9 L1625.6,1052.4 L1628.6,1052.9 L1631.6,1053.4 L1634.6,1053.9 L1637.6,1054.3 L1640.6,1054.8 L1643.6,1055.3 L1646.6,1055.7 L1649.6,1056.2 L1652.6,1056.6 L1655.6,1057.1 L1658.6,1057.5 L1661.6,1058.0 L1664.6,1058.4 L1667.6,1058.8 L1670.7,1059.2 L1673.7,1059.6 L1676.7,1060.0 L1679.7,1060.4 L1682.7,1060.8 L1685.7,1061.2 L1688.7,1061.6 L1691.7,1061.9 L1694.7,1062.3 L1697.7,1062.7 L1700.7,1063.0 L1703.7,1063.4 L1706.7,1063.7 L1709.7,1064.0 L1712.7,1064.3 L1715.7,1064.7 L1718.7,1065.0 L1721.7,1065.3 L1724.7,1065.6 L1727.7,1065.9 L1730.7,1066.1 L1733.7,1066.4 L1736.7,1066.7 L1739.7,1066.9 L1742.7,1067.2 L1745.7,1067.4 L1748.7,1067.7 L1751.7,1067.9 L1754.7,1068.1 L1757.7,1068.3 L1760.7,1068.5 L1763.7,1068.7 L1766.7,1068.9 L1769.7,1069.1 L1772.7,1069.3 L1775.7,1069.5 L1778.7,1069.6 L1781.7,1069.8 L1784.7,1069.9 L1787.7,1070.1 L1790.7,1070.2 L1793.7,1070.3 L1796.7,1070.4 L1799.7,1070.5 L1802.7,1070.6 L1805.7,1070.7 L1808.7,1070.8 L1811.7,1070.9 L1814.7,1071.0 L1817.7,1071.0 L1820.7,1071.1 L1823.7,1071.1 L1826.7,1071.1 L1829.7,1071.2 L1832.7,1071.2 L1835.7,1071.2 L1838.7,1071.2 L1841.7,1071.2 L1844.7,1071.2 L1847.7,1071.2 L1850.7,1071.2 L1853.7,1071.1 L1856.7,1071.1 L1859.7,1071.0 L1862.7,1071.0 L1865.7,1070.9 L1868.7,1070.9 L1871.7,1070.8 L1874.7,1070.7 L1877.7,1070.6 L1880.7,1070.5 L1883.7,1070.4 L1886.7,1070.3 L1889.8,1070.2 L1892.8,1070.0 L1895.8,1069.9 L1898.8,1069.7 L1901.8,1069.6 L1904.8,1069.4 L1907.8,1069.3 L1910.8,1069.1 L1913.8,1068.9 L1916.8,1068.7 L1919.8,1068.5 L1922.8,1068.3 L1925.8,1068.1 L1928.8,1067.9 L1931.8,1067.7 L1934.8,1067.5 L1937.8,1067.2 L1940.8,1067.0 L1943.8,1066.8 L1946.8,1066.5 L1949.8,1066.3 L1952.8,1066.0 L1955.8,1065.7 L1958.8,1065.4 L1961.8,1065.2 L1964.8,1064.9 L1967.8,1064.6 L1970.8,1064.3 L1973.8,1064.0 L1976.8,1063.7 L1979.8,1063.3 L1982.8,1063.0 L1985.8,1062.7 L1988.8,1062.4 L1991.8,1062.0 L1994.8,1061.7 L1997.8,1061.3 L2000.8,1061.0 L2003.8,1060.6 L2006.8,1060.3 L2009.8,1059.9 L2012.8,1059.5 L2015.8,1059.1 L2018.8,1058.7 L2021.8,1058.4 L2024.8,1058.0 L2027.8,1057.6 L2030.8,1057.2 L2033.8,1056.8 L2036.8,1056.4 L2039.8,1055.9 L2042.8,1055.5 L2045.8,1055.1 L2048.8,1054.7 L2051.8,1054.2 L2054.8,1053.8 L2057.8,1053.4 L2060.8,1052.9 L2063.8,1052.5 L2066.8,1052.0 L2069.8,1051.6 L2072.8,1051.1 L2075.8,1050.7 L2078.8,1050.2 L2081.8,1049.8 L2084.8,1049.3 L2087.8,1048.8 L2090.8,1048.4 L2093.8,1047.9 L2096.8,1047.4 L2099.8,1047.0 L2102.8,1046.5 L2105.9,1046.0 L2108.9,1045.5 L2111.9,1045.0 L2114.9,1044.5 L2117.9,1044.1 L2120.9,1043.6 L2123.9,1043.1 L2126.9,1042.6 L2129.9,1042.1 L2132.9,1041.6 L2135.9,1041.1 L2138.9,1040.6 L2141.9,1040.1 L2144.9,1039.6 L2147.9,1039.1 L2150.9,1038.6 L2153.9,1038.1 L2156.9,1037.6 L2159.9,1037.1 L2162.9,1036.6 L2165.9,1036.1 L2168.9,1035.6 L2171.9,1035.1 L2174.9,1034.6 L2177.9,1034.2 L2180.9,1033.7 L2183.9,1033.2 L2186.9,1032.7 L2189.9,1032.2 L2192.9,1031.7 L2195.9,1031.2 L2198.9,1030.7 L2201.9,1030.2 L2204.9,1029.7 L2207.9,1029.2 L2210.9,1028.7 L2213.9,1028.2 L2216.9,1027.7 L2219.9,1027.2 L2222.9,1026.7 L2225.9,1026.3 L2228.9,1025.8 L2231.9,1025.3 L2234.9,1024.8 L2237.9,1024.3 L2240.9,1023.8 L2243.9,1023.4 L2246.9,1022.9 L2249.9,1022.4 L2252.9,1021.9 L2255.9,1021.4 L2258.9,1021.0 L2261.9,1020.5 L2264.9,1020.0 L2267.9,1019.5 L2270.9,1019.1 L2273.9,1018.6 L2276.9,1018.1 L2279.9,1017.7 L2282.9,1017.2 L2285.9,1016.7 L2288.9,1016.2 L2291.9,1015.8 L2294.9,1015.3 L2297.9,1014.8 L2300.9,1014.4 L2303.9,1013.9 L2306.9,1013.4 L2309.9,1013.0 L2312.9,1012.5 L2315.9,1012.0 L2318.9,1011.5 L2322.0,1011.1 L2325.0,1010.6 L2328.0,1010.1 L2331.0,1009.6 L2334.0,1009.1 L2337.0,1008.7 L2340.0,1008.2 L2343.0,1007.7 L2346.0,1007.2 L2349.0,1006.7 L2352.0,1006.2 L2355.0,1005.7 L2358.0,1005.2 L2361.0,1004.7 L2364.0,1004.1 L2367.0,1003.6 L2370.0,1003.1 L2373.0,1002.5 L2376.0,1002.0 L2379.0,1001.4 L2382.0,1000.9 L2385.0,1000.3 L2388.0,999.7 L2391.0,999.1 L2394.0,998.5 L2397.0,997.9 L2400.0,997.3 L2403.0,996.7 L2406.0,996.0 L2409.0,995.4 L2412.0,994.7 L2415.0,994.0 L2418.0,993.3 L2421.0,992.6 L2424.0,991.9 L2427.0,991.1 L2430.0,990.4" stroke="#ff00ff"/>
<path d="M260.0,828.3 L263.0,820.8 L266.0,813.8 L269.0,807.2 L272.0,801.1 L275.0,795.4 L278.0,790.2 L279.5,787.9 L281.1,785.6 L284.1,781.6 L287.1,777.9 L290.1,774.3 L292.1,771.8 L293.1,770.5 L296.1,766.6 L299.1,762.6 L302.1,758.7 L304.6,755.6 L305.1,755.0 L308.1,751.4 L311.1,748.0 L314.1,744.6 L317.1,741.2 L318.1,740.1 L320.1,737.8 L323.2,734.4 L326.2,731.0 L329.2,727.7 L330.6,726.1 L332.2,724.4 L335.2,721.1 L338.2,717.9 L341.2,714.6 L344.2,711.3 L344.6,710.9 L347.2,707.9 L350.2,704.4 L353.2,700.8 L356.2,697.6 L358.5,695.5 L359.2,694.9 L362.2,692.6 L365.3,690.6 L368.3,688.8 L371.3,686.8 L374.3,684.7 L374.5,684.5 L377.3,682.2 L380.3,679.4 L383.3,676.6 L386.3,673.8 L388.8,671.6 L389.3,671.2 L392.3,668.7 L395.3,666.2 L398.3,663.8 L401.3,661.5 L404.3,659.1 L404.4,659.1 L407.4,656.8 L410.4,654.4 L413.4,652.1 L416.4,649.8 L419.4,647.6 L421.0,646.5 L422.4,645.6 L425.4,643.6 L428.4,641.7 L431.4,639.8 L434.4,638.0 L437.4,636.3 L438.4,635.8 L440.4,634.7 L443.4,633.2 L446.4,631.8 L449.5,630.4 L452.5,629.0 L455.5,627.5 L456.8,626.8 L458.5,625.9 L461.5,624.1 L464.5,622.2 L467.5,620.3 L470.5,618.5 L473.0,617.0 L473.5,616.7 L476.5,615.0 L479.5,613.2 L482.5,611.5 L485.5,609.8 L488.5,608.3 L490.9,607.1 L491.6,606.8 L494.6,605.4 L497.6,604.0 L500.6,602.8 L503.6,601.5 L506.6,600.3 L509.6,599.1 L509.7,599.1 L512.6,598.0 L515.6,597.0 L518.6,595.9 L521.6,594.9 L524.6,593.9 L527.6,592.8 L527.6,592.8 L530.7,591.7 L533.7,590.6 L536.7,589.5 L539.7,588.3 L542.7,587.1 L545.7,585.9 L546.4,585.6 L548.7,584.6 L551.7,583.1 L554.7,581.5 L557.7,579.9 L560.7,578.4 L563.7,577.1 L564.6,576.7 L566.7,575.9 L569.7,574.8 L572.8,573.7 L575.8,572.7 L578.8,571.8 L581.8,570.8 L583.1,570.4 L584.8,569.9 L587.8,568.9 L590.8,567.9 L593.8,566.9 L596.8,566.0 L599.8,565.2 L602.4,564.5 L602.8,564.4 L605.8,563.7 L608.8,563.1 L611.8,562.5 L614.9,562.0 L617.9,561.4 L620.9,560.9 L622.5,560.6 L623.9,560.4 L626.9,559.9 L629.9,559.4 L632.9,559.0 L635.9,558.5 L638.9,558.0 L641.9,557.4 L642.2,557.3 L644.9,556.6 L647.9,555.8 L650.9,554.9 L653.9,553.9 L657.0,552.9 L660.0,551.9 L661.0,551.6 L663.0,551.0 L666.0,550.0 L669.0,549.0 L672.0,548.1 L675.0,547.1 L678.0,546.2 L679.8,545.7 L681.0,545.4 L684.0,544.6 L687.0,543.8 L690.0,543.0 L693.0,542.3 L696.0,541.6 L699.1,540.9 L699.2,540.9 L702.1,540.3 L705.1,539.7 L708.1,539.1 L711.1,538.6 L714.1,538.1 L717.1,537.6 L718.9,537.3 L720.1,537.1 L723.1,536.7 L726.1,536.2 L729.1,535.8 L732.1,535.4 L735.1,535.1 L738.1,534.7 L738.6,534.6 L741.2,534.3 L744.2,533.9 L747.2,533.5 L750.2,533.1 L753.2,532.7 L756.2,532.3 L759.2,531.9 L762.2,531.2 L765.3,530.4 L768.3,529.7 L771.3,528.9 L774.4,528.1 L777.1,527.4 L777.4,527.3 L780.4,526.5 L783.4,525.6 L786.5,524.8 L789.5,523.9 L792.5,523.1 L795.6,522.4 L796.8,522.1 L798.6,521.7 L801.6,521.1 L804.7,520.5 L807.7,520.0 L810.7,519.4 L813.8,518.9 L816.5,518.5 L816.8,518.5 L819.8,518.0 L822.8,517.5 L825.9,517.1 L828.9,516.6 L831.9,516.3 L835.0,516.0 L837.1,515.8 L838.0,515.7 L841.0,515.6 L844.1,515.4 L847.1,515.2 L850.1,515.1 L853.2,515.0 L856.2,514.9 L856.8,514.9 L859.2,514.8 L862.2,514.7 L865.3,514.7 L868.3,514.6 L871.3,514.5 L874.4,514.5 L876.5,514.5 L877.4,514.5 L880.4,514.5 L883.5,514.6 L886.5,514.7 L889.5,514.7 L892.6,514.8 L895.6,514.9 L896.2,514.9 L898.6,514.9 L901.6,515.0 L904.7,515.1 L907.7,515.1 L910.7,515.2 L913.8,515.2 L916.3,515.3 L916.8,515.3 L919.8,515.4 L922.9,515.5 L925.9,515.6 L928.9,515.7 L932.0,515.8 L935.0,515.8 L936.5,515.8 L938.0,515.8 L941.0,515.8 L944.1,515.7 L947.1,515.7 L950.1,515.6 L953.2,515.5 L956.2,515.4 L959.2,514.9 L962.2,514.4 L965.2,513.9 L968.2,513.4 L971.3,512.9 L974.3,512.5 L975.9,512.2 L977.3,512.0 L980.3,511.5 L983.3,511.0 L986.3,510.5 L989.3,510.0 L992.3,509.6 L995.4,509.2 L995.6,509.2 L998.4,508.9 L1001.4,508.7 L1004.4,508.4 L1007.4,508.2 L1010.4,508.0 L1013.4,507.8 L1016.2,507.7 L1016.4,507.7 L1019.5,507.6 L1022.5,507.4 L1025.5,507.3 L1028.5,507.2 L1031.5,507.1 L1034.5,507.0 L1036.0,507.0 L1037.5,507.0 L1040.5,506.9 L1043.5,506.8 L1046.6,506.7 L1049.6,506.7 L1052.6,506.6 L1055.6,506.5 L1056.5,506.5 L1058.6,506.4 L1061.6,506.4 L1064.6,506.3 L1067.6,506.2 L1070.7,506.1 L1073.7,506.1 L1076.2,506.0 L1076.7,506.0 L1079.7,505.9 L1082.7,505.8 L1085.7,505.8 L1088.7,505.7 L1091.7,505.6 L1094.8,505.6 L1096.8,505.6 L1097.8,505.6 L1100.8,505.6 L1103.8,505.6 L1106.8,505.6 L1109.8,505.6 L1112.8,505.6 L1115.8,505.6 L1116.5,505.6 L1118.8,505.6 L1121.9,505.7 L1124.9,505.9 L1127.9,506.1 L1130.9,506.3 L1133.9,506.4 L1135.9,506.5 L1136.9,506.5 L1139.9,506.6 L1142.9,506.7 L1146.0,506.8 L1149.0,506.9 L1152.0,507.0 L1155.0,507.0 L1158.0,507.1 L1161.0,507.2 L1164.0,507.2 L1167.0,507.3 L1170.1,507.4 L1173.1,507.4 L1176.1,507.5 L1179.1,507.5 L1182.1,507.6 L1185.1,507.7 L1188.1,507.7 L1191.1,507.8 L1194.1,507.8 L1197.2,507.9 L1200.2,507.9 L1203.2,508.0 L1206.2,508.1 L1209.2,508.1 L1212.2,508.2 L1215.2,508.3 L1216.5,508.3 L1218.2,508.3 L1221.3,508.4 L1224.3,508.5 L1227.3,508.6 L1230.3,508.7 L1233.3,508.7 L1236.3,508.8 L1239.3,508.9 L1242.3,509.0 L1245.4,509.1 L1248.4,509.1 L1251.4,509.2 L1254.4,509.3 L1257.4,509.4 L1260.4,509.5 L1263.4,509.6 L1266.4,509.7 L1269.4,509.7 L1272.5,509.8 L1275.5,509.9 L1278.5,510.0 L1281.5,510.1 L1284.5,510.1 L1287.5,510.2 L1290.5,510.3 L1293.5,510.3 L1296.2,510.4 L1296.6,510.4 L1299.6,510.5 L1302.6,510.5 L1305.6,510.6 L1308.6,510.7 L1311.6,510.7 L1314.6,510.8 L1317.6,510.9 L1320.7,510.9 L1323.7,511.0 L1326.7,511.0 L1329.7,511.1 L1332.7,511.2 L1335.7,511.2 L1338.7,511.3 L1341.7,511.3 L1344.7,511.4 L1347.8,511.4 L1350.8,511.5 L1353.8,511.5 L1356.8,511.6 L1359.8,511.6 L1362.8,511.7 L1365.8,511.7 L1368.8,511.8 L1371.9,511.8 L1374.9,511.9 L1375.9,511.9 L1377.9,511.9 L1380.9,512.0 L1383.9,512.0 L1386.9,512.1 L1389.9,512.1 L1392.9,512.2 L1396.0,512.2 L1399.0,512.2 L1402.0,512.3 L1405.0,512.3 L1408.0,512.4 L1411.0,512.4 L1414.0,512.4 L1417.0,512.5 L1420.0,512.5 L1423.1,512.6 L1426.1,512.6 L1429.1,512.6 L1432.1,512.7 L1435.1,512.7 L1438.1,512.7 L1441.1,512.8 L1444.1,512.8 L1447.2,512.8 L1450.2,512.9 L1453.2,512.9 L1455.6,512.9 L1456.2,512.9 L1459.2,512.9 L1462.2,513.0 L1465.2,513.0 L1468.2,513.0 L1471.3,513.0 L1474.3,513.0 L1477.3,513.1 L1480.3,513.1 L1483.3,513.1 L1486.3,515.3 L1489.4,517.4 L1492.4,519.3 L1493.2,519.7 L1495.4,520.8 L1498.5,522.3 L1501.5,523.6 L1504.5,524.8 L1507.6,526.0 L1510.6,527.2 L1511.1,527.4 L1513.6,528.4 L1516.7,529.6 L1519.7,530.7 L1522.7,531.8 L1525.8,532.9 L1528.8,533.9 L1530.8,534.6 L1531.8,534.9 L1534.9,535.9 L1537.9,536.9 L1540.9,537.8 L1544.0,538.7 L1547.0,539.6 L1549.6,540.3 L1550.0,540.4 L1553.1,541.2 L1556.1,541.9 L1559.1,542.7 L1562.2,543.4 L1565.2,544.1 L1568.2,544.7 L1569.5,545.0 L1571.3,545.4 L1574.3,546.0 L1577.3,546.6 L1580.3,547.2 L1583.4,547.8 L1586.4,548.4 L1589.2,548.9 L1589.4,548.9 L1592.5,549.5 L1595.5,550.1 L1598.5,550.7 L1601.6,551.3 L1604.6,551.8 L1607.6,552.3 L1608.9,552.5 L1610.7,552.8 L1613.7,553.2 L1616.7,553.6 L1619.8,554.1 L1622.8,554.4 L1625.8,554.8 L1628.9,555.2 L1629.0,555.2 L1631.9,555.5 L1634.9,555.9 L1638.0,556.2 L1641.0,556.5 L1644.0,556.8 L1647.1,557.1 L1649.1,557.3 L1650.1,557.4 L1653.1,557.7 L1656.2,558.0 L1659.2,558.3 L1662.2,558.6 L1665.3,558.9 L1668.3,559.2 L1668.9,559.3 L1671.3,559.6 L1674.4,560.1 L1677.4,560.6 L1680.4,562.1 L1683.4,563.5 L1686.4,564.9 L1687.7,565.4 L1689.5,566.1 L1692.5,567.3 L1695.5,568.5 L1698.5,569.6 L1701.5,570.6 L1704.5,571.7 L1706.0,572.2 L1707.5,572.7 L1710.5,573.8 L1713.6,574.8 L1716.6,575.8 L1719.6,576.7 L1722.6,577.7 L1725.4,578.5 L1725.6,578.6 L1728.6,579.4 L1731.6,580.3 L1734.7,581.1 L1737.7,581.9 L1740.7,582.7 L1743.7,583.4 L1745.1,583.8 L1746.7,584.2 L1749.7,585.0 L1752.7,585.7 L1755.7,586.4 L1758.8,587.1 L1761.8,587.8 L1764.6,588.3 L1764.8,588.3 L1767.8,588.8 L1770.8,589.3 L1773.8,589.7 L1776.8,590.0 L1779.9,590.4 L1782.9,590.9 L1783.9,591.0 L1785.9,591.3 L1788.9,591.7 L1791.9,592.2 L1794.9,592.7 L1797.9,593.2 L1800.9,593.6 L1804.0,594.1 L1804.0,594.1 L1807.0,594.6 L1810.0,595.0 L1813.0,595.5 L1816.0,596.6 L1819.0,597.6 L1822.0,598.7 L1823.3,599.1 L1825.0,599.7 L1828.0,600.7 L1831.1,601.7 L1834.1,602.7 L1837.1,603.6 L1840.1,604.6 L1842.5,605.3 L1843.1,605.5 L1846.1,606.4 L1849.1,607.3 L1852.1,608.2 L1855.1,609.0 L1858.1,609.9 L1861.2,610.7 L1861.3,610.7 L1864.2,611.4 L1867.2,612.2 L1870.2,612.9 L1873.2,613.6 L1876.2,614.2 L1879.2,614.9 L1880.6,615.2 L1882.2,615.5 L1885.2,616.2 L1888.2,616.8 L1891.3,617.5 L1894.3,618.1 L1897.3,618.7 L1900.3,619.4 L1903.3,620.0 L1906.3,620.6 L1909.3,621.3 L1912.3,621.9 L1915.3,622.5 L1918.3,623.2 L1921.4,623.8 L1924.4,624.4 L1927.4,625.0 L1930.4,625.7 L1933.4,626.3 L1936.4,626.9 L1939.4,627.5 L1942.4,628.2 L1945.4,628.8 L1948.4,629.4 L1951.4,630.0 L1954.5,630.6 L1957.5,631.2 L1960.5,631.8 L1963.5,632.5 L1966.5,633.1 L1969.5,633.7 L1972.5,634.3 L1975.5,634.9 L1978.5,635.5 L1981.5,636.1 L1984.6,636.7 L1987.6,637.3 L1990.6,637.9 L1993.6,638.5 L1996.6,639.1 L1999.6,639.7 L2002.6,640.3 L2005.6,640.9 L2008.6,641.5 L2011.6,642.1 L2014.7,642.7 L2017.7,643.3 L2020.7,643.9 L2023.7,644.5 L2026.7,645.1 L2029.7,645.7 L2032.7,646.2 L2035.7,646.8 L2038.7,647.4 L2041.7,648.0 L2044.8,648.6 L2047.8,649.2 L2050.8,649.7 L2053.8,650.3 L2056.8,650.9 L2059.8,651.5 L2062.8,652.1 L2065.8,652.6 L2068.8,653.2 L2071.8,653.8 L2074.8,654.4 L2077.9,654.9 L2080.9,655.5 L2083.9,656.1 L2086.9,656.6 L2089.9,657.2 L2092.9,657.8 L2095.9,658.3 L2098.9,658.9 L2101.9,659.5 L2104.9,660.0 L2108.0,660.6 L2111.0,661.2 L2114.0,661.7 L2117.0,662.3 L2120.0,662.8 L2123.0,663.4 L2126.0,664.0 L2129.0,664.5 L2132.0,665.1 L2135.0,665.6 L2138.1,666.2 L2141.1,666.7 L2144.1,667.3 L2147.1,667.8 L2150.1,668.4 L2153.1,668.9 L2156.1,669.5 L2159.1,670.0 L2162.1,670.6 L2165.1,671.1 L2168.2,671.7 L2171.2,672.2 L2174.2,672.7 L2177.2,673.3 L2180.2,673.8 L2183.2,674.4 L2186.2,674.9 L2189.2,675.4 L2192.2,676.0 L2195.2,676.5 L2198.2,677.0 L2201.3,677.6 L2204.3,678.1 L2207.3,678.6 L2210.3,679.2 L2213.3,679.7 L2216.3,680.2 L2219.3,680.8 L2222.3,681.3 L2225.3,681.8 L2228.3,682.3 L2231.4,682.9 L2234.4,683.4 L2237.4,683.9 L2240.4,684.4 L2243.4,685.0 L2246.4,685.5 L2249.4,686.0 L2252.4,686.5 L2255.4,687.0 L2258.4,687.5 L2261.5,688.1 L2264.5,688.6 L2267.5,689.1 L2270.5,689.6 L2273.5,690.1 L2276.5,690.6 L2279.5,691.1 L2282.5,691.7 L2285.5,692.2 L2288.5,692.7 L2291.6,693.2 L2294.6,693.7 L2297.6,694.2 L2300.6,694.7 L2303.6,695.2 L2306.6,695.7 L2309.6,696.2 L2312.6,696.7 L2315.6,697.2 L2318.6,697.7 L2321.6,698.2 L2324.7,698.7 L2327.7,699.2 L2330.7,699.7 L2333.7,700.2 L2336.7,700.7 L2339.7,701.2 L2342.7,701.7 L2345.7,702.2 L2348.7,702.7 L2351.7,703.2 L2354.8,703.7 L2357.8,704.1 L2360.8,704.6 L2363.8,705.1 L2366.8,705.6 L2369.8,706.1 L2372.8,706.6 L2375.8,707.1 L2378.8,707.6 L2381.8,708.0 L2384.9,708.5 L2387.9,709.0 L2390.9,709.5 L2393.9,710.0 L2396.9,710.4 L2399.9,710.9 L2402.9,711.4 L2405.9,711.9 L2408.9,712.4 L2409.8,712.5 L2411.9,712.8 L2415.0,713.3 L2418.0,713.7 L2421.0,714.2 L2424.0,714.6 L2427.0,715.0 L2427.4,715.1 L2430.0,715.5" stroke="#7e2f8e" stroke-dasharray="10.9 9.1"/>
<path d="M260.0,828.3 L263.0,824.9 L266.0,821.3 L269.0,817.6 L272.0,813.7 L275.1,809.8 L276.0,808.5 L278.1,805.6 L281.1,801.0 L284.1,796.3 L287.1,792.0 L287.6,791.4 L290.1,788.2 L293.1,784.7 L296.1,781.3 L299.2,778.1 L301.0,776.2 L302.2,775.0 L305.2,772.0 L308.2,769.2 L311.2,766.5 L314.2,763.9 L314.5,763.7 L317.2,761.6 L320.2,759.5 L323.3,757.5 L326.3,755.4 L329.3,753.2 L329.7,752.9 L332.3,750.8 L335.3,748.1 L338.3,745.3 L341.3,742.6 L344.3,740.0 L344.9,739.5 L347.4,737.5 L350.4,735.2 L353.4,732.9 L356.4,730.7 L359.4,728.5 L361.6,727.0 L362.4,726.4 L365.4,724.4 L368.4,722.5 L371.5,720.7 L374.5,718.8 L377.5,716.9 L378.6,716.2 L380.5,715.0 L383.5,713.0 L386.5,711.1 L389.5,709.2 L392.5,707.2 L395.1,705.5 L395.6,705.2 L398.6,703.1 L401.6,700.8 L404.6,698.6 L407.6,696.5 L410.6,694.7 L412.0,694.0 L413.6,693.2 L416.6,692.0 L419.7,690.9 L422.7,689.9 L425.7,688.9 L428.7,687.8 L431.3,686.7 L431.7,686.5 L434.7,685.1 L437.7,683.5 L440.7,681.8 L443.8,680.1 L446.8,678.5 L449.7,677.0 L449.8,677.0 L452.8,675.5 L455.8,674.1 L458.8,672.8 L461.8,671.5 L464.8,670.1 L467.6,668.9 L467.9,668.8 L470.9,667.4 L473.9,666.1 L476.9,664.7 L479.9,663.4 L482.9,662.0 L485.5,660.9 L485.9,660.7 L488.9,659.4 L492.0,658.0 L495.0,656.7 L498.0,655.4 L501.0,654.1 L504.0,652.9 L504.3,652.8 L507.0,651.8 L510.0,650.7 L513.0,649.7 L516.1,648.7 L519.1,647.6 L522.1,646.5 L522.2,646.5 L525.1,645.4 L528.1,644.2 L531.1,643.0 L534.1,641.7 L537.1,640.5 L540.2,639.2 L541.9,638.5 L543.2,638.0 L546.2,636.7 L549.2,635.5 L552.2,634.2 L555.2,632.9 L558.2,631.6 L558.9,631.3 L561.2,630.3 L564.3,628.9 L567.3,627.4 L570.3,626.0 L573.3,624.7 L576.3,623.4 L576.8,623.2 L579.3,622.2 L582.3,621.0 L585.3,619.8 L588.4,618.7 L591.4,617.7 L594.4,616.7 L596.5,616.1 L597.4,615.9 L600.4,615.1 L603.4,614.3 L606.4,613.6 L609.4,613.0 L612.5,612.4 L615.5,611.7 L616.2,611.6 L618.5,611.2 L621.5,610.6 L624.5,610.1 L627.5,609.6 L630.5,609.1 L633.5,608.5 L635.9,608.0 L636.6,607.9 L639.6,607.1 L642.6,606.4 L645.6,605.6 L648.6,604.7 L651.6,603.7 L654.6,602.7 L654.7,602.7 L657.6,601.6 L660.7,600.3 L663.7,598.9 L666.7,597.4 L669.7,595.9 L672.6,594.6 L672.7,594.6 L675.7,593.2 L678.7,591.7 L681.7,590.3 L684.8,589.0 L687.8,587.7 L689.8,587.0 L690.8,586.7 L693.8,585.7 L696.8,584.8 L699.8,583.9 L702.8,583.1 L705.8,582.4 L708.9,581.6 L710.9,581.1 L711.9,580.9 L714.9,580.2 L717.9,579.5 L720.9,578.8 L723.9,578.2 L726.9,577.5 L729.9,576.8 L730.6,576.7 L733.0,576.2 L736.0,575.5 L739.0,574.8 L742.0,574.2 L745.0,573.5 L748.0,572.8 L750.3,572.2 L751.0,572.0 L754.0,571.2 L757.1,570.4 L760.1,569.5 L763.1,568.7 L766.1,567.7 L769.1,566.8 L772.1,565.8 L775.2,564.9 L778.2,563.9 L781.3,562.9 L784.3,561.8 L787.4,560.8 L787.9,560.6 L790.4,559.7 L793.5,558.5 L796.5,557.3 L799.6,556.2 L802.6,555.0 L805.7,554.0 L807.6,553.4 L808.7,553.1 L811.8,552.2 L814.8,551.4 L817.8,550.7 L820.9,550.0 L823.9,549.4 L826.4,548.9 L827.0,548.8 L830.0,548.3 L833.1,547.9 L836.1,547.5 L839.2,547.1 L842.2,546.7 L845.3,546.3 L846.1,546.2 L848.3,545.9 L851.4,545.5 L854.4,545.1 L857.5,544.7 L860.5,544.3 L863.5,543.9 L865.8,543.6 L866.6,543.5 L869.6,543.0 L872.7,542.5 L875.7,542.0 L878.8,541.5 L881.8,541.0 L884.9,540.6 L885.5,540.5 L887.9,540.2 L891.0,539.8 L894.0,539.4 L897.1,539.0 L900.1,538.7 L903.2,538.4 L905.5,538.2 L906.2,538.1 L909.3,537.9 L912.3,537.7 L915.3,537.5 L918.4,537.4 L921.4,537.2 L924.5,537.0 L925.8,536.9 L927.5,536.8 L930.6,536.6 L933.6,536.4 L936.7,536.1 L939.7,535.9 L942.8,535.7 L945.5,535.5 L945.8,535.5 L948.9,535.2 L951.9,535.0 L955.0,534.8 L958.0,534.5 L961.0,533.8 L964.0,533.1 L965.2,532.8 L967.0,532.4 L970.0,531.7 L973.1,531.0 L976.1,530.3 L979.1,529.6 L982.1,528.9 L984.9,528.3 L985.1,528.3 L988.1,527.6 L991.1,527.0 L994.1,526.4 L997.2,525.8 L1000.2,525.2 L1003.2,524.7 L1004.6,524.4 L1006.2,524.1 L1009.2,523.6 L1012.2,523.1 L1015.2,522.6 L1018.2,522.1 L1021.3,521.7 L1024.3,521.2 L1024.3,521.2 L1027.3,520.8 L1030.3,520.3 L1033.3,519.9 L1036.3,519.5 L1039.3,519.1 L1042.3,518.7 L1044.0,518.5 L1045.3,518.4 L1048.4,518.1 L1051.4,517.8 L1054.4,517.5 L1057.4,517.3 L1060.4,517.0 L1063.4,516.7 L1063.7,516.7 L1066.4,516.4 L1069.4,516.1 L1072.5,515.8 L1075.5,515.5 L1078.5,515.3 L1081.5,515.0 L1083.4,514.9 L1084.5,514.8 L1087.5,514.7 L1090.5,514.5 L1093.5,514.4 L1096.6,514.3 L1099.6,514.2 L1102.6,514.0 L1103.1,514.0 L1105.6,513.9 L1108.6,513.7 L1111.6,513.4 L1114.6,513.2 L1117.6,513.0 L1120.6,512.8 L1122.5,512.7 L1123.7,512.6 L1126.7,512.5 L1129.7,512.3 L1132.7,512.2 L1135.7,512.1 L1138.7,511.9 L1141.7,511.8 L1144.7,511.7 L1147.8,511.6 L1150.8,511.5 L1153.8,511.3 L1156.8,511.2 L1159.8,511.1 L1162.8,511.0 L1163.7,511.0 L1165.8,510.9 L1168.8,510.8 L1171.9,510.7 L1174.9,510.7 L1177.9,510.6 L1180.9,510.5 L1183.9,510.4 L1186.9,510.3 L1189.9,510.2 L1192.9,510.2 L1195.9,510.1 L1199.0,510.0 L1202.0,509.9 L1204.0,509.9 L1205.0,509.9 L1208.0,509.8 L1211.0,509.8 L1214.0,509.7 L1217.0,509.6 L1220.0,509.6 L1223.1,509.5 L1226.1,509.5 L1229.1,509.4 L1232.1,509.4 L1235.1,509.3 L1238.1,509.3 L1241.1,509.2 L1243.4,509.2 L1244.1,509.2 L1247.2,509.1 L1250.2,509.1 L1253.2,509.0 L1256.2,509.0 L1259.2,509.0 L1262.2,508.9 L1265.2,508.9 L1268.2,508.8 L1271.2,508.8 L1274.3,508.7 L1277.3,508.7 L1280.3,508.6 L1282.8,508.6 L1283.3,508.6 L1286.3,508.5 L1289.3,508.5 L1292.3,508.4 L1295.3,508.4 L1298.4,508.3 L1301.4,508.3 L1304.4,508.2 L1307.4,508.1 L1310.4,508.1 L1313.4,508.0 L1316.4,508.0 L1319.4,507.9 L1322.5,507.9 L1325.5,507.8 L1328.5,507.8 L1331.5,507.8 L1334.5,507.7 L1337.5,507.7 L1340.5,507.7 L1343.5,507.7 L1343.6,507.7 L1346.5,507.7 L1349.6,507.7 L1352.6,507.7 L1355.6,507.7 L1358.6,507.7 L1361.6,507.7 L1364.6,507.7 L1367.6,507.7 L1370.6,507.7 L1373.7,507.7 L1376.7,507.7 L1379.7,507.7 L1382.7,507.7 L1385.7,507.7 L1388.7,507.7 L1391.7,507.7 L1394.7,507.7 L1397.8,507.7 L1400.8,507.7 L1403.6,507.7 L1403.8,507.7 L1406.8,507.7 L1409.8,507.7 L1412.8,507.7 L1415.8,507.7 L1418.8,507.7 L1421.8,507.7 L1424.9,507.7 L1427.9,507.7 L1430.9,507.7 L1433.9,507.7 L1436.9,507.7 L1439.9,507.7 L1442.9,507.7 L1445.9,507.7 L1449.0,507.7 L1452.0,507.7 L1455.0,507.7 L1458.0,507.7 L1461.0,507.7 L1463.3,507.7 L1464.0,507.7 L1467.0,507.7 L1470.0,507.7 L1473.1,507.6 L1476.1,507.6 L1479.1,507.5 L1482.1,507.5 L1485.1,507.4 L1488.1,509.0 L1491.1,510.6 L1494.1,512.1 L1497.1,513.6 L1500.1,514.9 L1501.2,515.4 L1503.1,516.2 L1506.1,517.4 L1509.1,518.6 L1512.1,519.7 L1515.1,520.8 L1518.2,521.8 L1520.9,522.6 L1521.2,522.7 L1524.2,523.5 L1527.2,524.3 L1530.2,525.0 L1533.2,525.7 L1536.2,526.3 L1539.2,527.1 L1540.6,527.4 L1542.2,527.8 L1545.2,528.6 L1548.2,529.4 L1551.2,530.2 L1554.2,531.0 L1557.2,531.7 L1558.4,531.9 L1560.2,532.2 L1563.2,532.7 L1566.2,533.2 L1569.2,533.6 L1572.2,534.0 L1575.2,534.4 L1578.2,534.9 L1579.8,535.1 L1581.2,535.3 L1584.3,535.8 L1587.3,536.3 L1590.3,536.8 L1593.3,537.3 L1596.3,537.7 L1599.3,538.2 L1599.5,538.2 L1602.3,538.6 L1605.3,538.9 L1608.3,539.3 L1611.3,539.7 L1614.3,540.0 L1617.3,540.3 L1619.2,540.5 L1620.3,540.6 L1623.3,540.9 L1626.3,541.2 L1629.3,541.4 L1632.3,541.7 L1635.3,542.0 L1638.3,542.2 L1639.2,542.3 L1641.3,542.5 L1644.3,542.8 L1647.4,543.1 L1650.4,543.4 L1653.4,543.7 L1656.4,543.9 L1659.1,544.1 L1659.4,544.1 L1662.4,544.3 L1665.4,544.5 L1668.4,544.6 L1671.4,544.8 L1674.4,544.9 L1677.4,545.0 L1680.5,546.5 L1683.5,548.0 L1686.6,549.4 L1689.7,550.8 L1692.7,552.0 L1695.8,553.2 L1697.6,553.9 L1698.9,554.3 L1701.9,555.4 L1705.0,556.4 L1708.0,557.3 L1711.1,558.2 L1714.2,559.0 L1716.8,559.7 L1717.2,559.8 L1720.3,560.6 L1723.4,561.3 L1726.4,561.9 L1729.5,562.6 L1732.6,563.2 L1735.6,563.9 L1736.5,564.1 L1738.7,564.6 L1741.8,565.3 L1744.8,566.0 L1747.9,566.7 L1750.9,567.4 L1754.0,568.0 L1755.6,568.3 L1757.1,568.6 L1760.1,569.1 L1763.2,569.6 L1766.3,570.0 L1769.3,570.4 L1772.4,570.9 L1775.3,571.3 L1775.5,571.3 L1778.5,571.8 L1781.6,572.2 L1784.7,572.6 L1787.7,573.0 L1790.8,573.4 L1793.8,573.8 L1795.0,574.0 L1796.9,574.3 L1800.0,574.7 L1803.0,575.1 L1806.1,575.5 L1809.2,575.9 L1812.2,576.3 L1815.3,576.7 L1818.3,577.9 L1821.3,579.0 L1824.3,580.2 L1827.4,581.2 L1830.4,582.3 L1833.4,583.3 L1834.1,583.5 L1836.4,584.2 L1839.4,585.1 L1842.4,586.0 L1845.4,586.9 L1848.4,587.7 L1851.5,588.5 L1853.2,588.9 L1854.5,589.2 L1857.5,589.8 L1860.5,590.4 L1863.5,591.0 L1866.5,591.5 L1869.5,592.1 L1872.6,592.8 L1872.6,592.8 L1875.6,593.6 L1878.6,594.4 L1881.6,595.3 L1884.6,596.2 L1887.6,597.0 L1888.7,597.3 L1890.6,597.8 L1893.6,598.5 L1896.7,599.2 L1899.7,599.9 L1902.7,600.6 L1905.7,601.4 L1908.7,602.1 L1911.7,602.8 L1914.7,603.5 L1917.8,604.2 L1920.8,604.9 L1923.8,605.6 L1926.8,606.3 L1929.8,607.0 L1932.8,607.7 L1935.8,608.4 L1938.8,609.1 L1941.9,609.8 L1944.9,610.5 L1947.9,611.2 L1950.9,611.9 L1953.9,612.6 L1956.9,613.3 L1959.9,613.9 L1962.9,614.6 L1966.0,615.3 L1969.0,616.0 L1972.0,616.7 L1975.0,617.3 L1978.0,618.0 L1981.0,618.7 L1984.0,619.4 L1987.1,620.0 L1990.1,620.7 L1993.1,621.4 L1996.1,622.0 L1999.1,622.7 L2002.1,623.4 L2005.1,624.0 L2008.1,624.7 L2011.2,625.3 L2014.2,626.0 L2017.2,626.6 L2020.2,627.3 L2023.2,627.9 L2026.2,628.6 L2029.2,629.2 L2032.3,629.9 L2035.3,630.5 L2038.3,631.2 L2041.3,631.8 L2044.3,632.4 L2047.3,633.1 L2050.3,633.7 L2053.3,634.3 L2056.4,635.0 L2059.4,635.6 L2062.4,636.2 L2065.4,636.8 L2068.4,637.5 L2071.4,638.1 L2074.4,638.7 L2077.5,639.3 L2080.5,639.9 L2083.5,640.5 L2086.5,641.1 L2089.5,641.8 L2092.5,642.4 L2095.5,643.0 L2098.5,643.6 L2101.6,644.2 L2104.6,644.8 L2107.6,645.4 L2110.6,646.0 L2113.6,646.6 L2116.6,647.2 L2119.6,647.7 L2122.7,648.3 L2125.7,648.9 L2128.7,649.5 L2131.7,650.1 L2134.7,650.7 L2137.7,651.3 L2140.7,651.8 L2143.7,652.4 L2146.8,653.0 L2149.8,653.6 L2152.8,654.1 L2155.8,654.7 L2158.8,655.3 L2161.8,655.8 L2164.8,656.4 L2167.8,656.9 L2170.9,657.5 L2173.9,658.1 L2176.9,658.6 L2179.9,659.2 L2182.9,659.7 L2185.9,660.3 L2188.9,660.8 L2192.0,661.4 L2195.0,661.9 L2198.0,662.4 L2201.0,663.0 L2204.0,663.5 L2207.0,664.1 L2210.0,664.6 L2213.0,665.1 L2216.1,665.6 L2219.1,666.2 L2222.1,666.7 L2225.1,667.2 L2228.1,667.7 L2231.1,668.3 L2234.1,668.8 L2237.2,669.3 L2240.2,669.8 L2243.2,670.3 L2246.2,670.8 L2249.2,671.3 L2252.2,671.8 L2255.2,672.4 L2258.2,672.9 L2261.3,673.4 L2264.3,673.8 L2267.3,674.3 L2270.3,674.8 L2273.3,675.3 L2276.3,675.8 L2279.3,676.3 L2282.4,676.8 L2285.4,677.3 L2288.4,677.8 L2291.4,678.2 L2294.4,678.7 L2297.4,679.2 L2300.4,679.7 L2303.4,680.1 L2306.5,680.6 L2309.5,681.1 L2312.5,681.5 L2315.5,682.0 L2318.5,682.5 L2321.5,682.9 L2324.5,683.4 L2327.6,683.8 L2330.6,684.3 L2333.6,684.7 L2336.6,685.2 L2339.6,685.6 L2342.6,686.1 L2345.6,686.5 L2348.6,687.0 L2351.7,687.4 L2354.7,687.8 L2357.7,688.3 L2360.7,688.7 L2363.7,689.1 L2366.7,689.5 L2369.7,690.0 L2372.7,690.4 L2375.8,690.8 L2378.8,691.2 L2381.8,691.6 L2384.8,692.1 L2387.8,692.5 L2390.8,692.9 L2393.8,693.3 L2396.9,693.7 L2399.9,694.1 L2402.1,694.4 L2402.9,694.5 L2405.9,694.9 L2408.9,695.2 L2411.9,695.6 L2414.9,695.9 L2417.9,696.3 L2421.0,696.6 L2422.1,696.7 L2424.0,696.9 L2427.0,697.2 L2430.0,697.5" stroke="#ff6929" stroke-dasharray="10.9 9.1"/>
<path d="M260.0,828.3 L263.0,808.0 L266.0,787.1 L266.5,783.7 L269.0,765.4 L272.0,744.0 L272.0,743.9 L275.0,724.5 L278.0,705.1 L278.1,704.6 L280.8,685.0 L281.0,683.5 L284.0,665.1 L287.0,648.4 L290.1,632.1 L291.2,625.9 L293.1,615.7 L296.1,599.4 L299.1,583.4 L302.1,567.9 L302.3,566.8 L305.1,553.0 L308.1,538.5 L311.1,524.5 L314.1,510.8 L314.8,507.7 L317.1,497.6 L320.1,484.7 L323.1,472.1 L326.1,459.9 L328.8,449.5 L329.1,448.3 L332.1,437.2 L334.2,430.0 L335.1,426.8 L338.1,416.8 L341.1,407.1 L344.2,397.6 L345.8,392.4 L347.2,388.1 L350.2,378.6 L353.2,369.3 L356.2,360.4 L358.3,354.4 L359.2,352.0 L362.2,344.2 L365.2,336.7 L368.2,329.5 L371.2,322.5 L373.6,317.1 L374.2,315.7 L377.2,309.0 L380.2,302.4 L383.2,296.0 L386.2,289.9 L389.2,284.1 L390.9,281.0 L392.2,278.6 L395.2,273.5 L398.2,268.7 L401.3,264.3 L401.9,263.4 L404.3,260.2 L407.3,256.2 L410.3,252.6 L413.3,249.3 L414.4,248.2 L416.3,246.4 L419.3,243.7 L422.3,241.2 L425.3,238.9 L428.3,236.9 L429.6,236.2 L431.3,235.3 L434.3,233.9 L437.3,232.7 L440.3,231.6 L443.3,230.5 L446.3,229.4 L448.8,228.5 L449.3,228.3 L452.3,227.1 L455.4,225.8 L458.4,224.5 L461.4,223.4 L464.4,222.5 L466.7,221.9 L467.4,221.8 L470.4,221.2 L473.4,220.6 L476.4,220.1 L479.4,219.7 L482.4,219.4 L485.4,219.2 L486.7,219.2 L488.4,219.3 L491.4,219.7 L494.4,220.5 L497.4,221.5 L500.4,222.6 L503.4,223.9 L505.7,224.9 L506.4,225.2 L509.5,226.9 L512.5,228.9 L515.5,231.3 L518.5,233.7 L521.5,236.3 L522.2,236.9 L524.5,238.9 L527.5,241.6 L530.5,244.6 L533.5,247.7 L536.5,250.9 L539.5,251.4 L542.6,252.1 L545.6,253.0 L548.7,254.2 L551.7,255.4 L554.7,256.8 L555.7,257.2 L557.8,258.3 L560.8,260.2 L563.8,262.5 L566.9,264.9 L569.9,267.5 L571.5,268.8 L573.0,270.0 L576.0,272.7 L579.0,275.5 L582.1,278.4 L585.1,281.5 L585.8,282.2 L588.2,284.6 L591.2,287.9 L594.2,291.3 L597.3,295.0 L599.2,297.4 L600.3,298.9 L603.3,303.2 L606.4,307.8 L609.4,312.5 L610.8,314.5 L612.5,316.9 L615.5,321.2 L618.5,325.5 L621.6,329.8 L622.1,330.6 L624.6,334.4 L627.7,339.0 L630.7,343.8 L632.9,347.2 L633.7,348.5 L636.8,353.5 L639.8,358.4 L642.8,362.9 L643.4,363.7 L645.9,366.9 L648.9,370.6 L652.0,374.0 L655.0,377.0 L658.1,378.9 L661.1,381.0 L664.2,383.3 L667.3,385.8 L670.3,388.5 L672.6,390.6 L673.4,391.3 L676.5,394.5 L679.5,398.1 L682.6,401.7 L685.2,404.9 L685.6,405.4 L688.7,409.2 L691.8,413.2 L694.8,417.2 L697.9,421.3 L701.0,425.3 L704.0,429.4 L707.1,433.3 L710.2,437.0 L710.9,437.9 L713.2,440.5 L716.3,443.8 L719.4,447.0 L722.4,450.5 L723.8,452.2 L725.5,454.5 L728.6,459.1 L731.6,464.0 L734.7,468.7 L735.0,469.2 L737.7,473.1 L740.8,477.4 L743.9,481.8 L746.3,485.4 L746.9,486.4 L750.0,491.6 L753.1,496.9 L756.1,501.9 L756.5,502.4 L759.2,506.0 L762.2,508.1 L765.2,510.3 L768.3,512.6 L771.3,515.0 L772.3,515.8 L774.3,517.5 L777.3,520.0 L780.4,522.7 L783.4,525.4 L786.4,528.3 L786.4,528.3 L789.4,531.3 L792.4,534.5 L795.5,537.7 L798.5,541.0 L801.3,543.9 L801.5,544.1 L804.5,547.1 L807.6,550.0 L810.6,552.9 L813.6,556.0 L815.3,557.9 L816.6,559.4 L819.6,563.3 L822.7,567.4 L825.7,571.5 L827.6,574.0 L828.7,575.4 L831.7,579.2 L834.7,583.0 L837.8,586.7 L839.8,589.2 L840.8,590.4 L843.8,594.0 L846.8,597.5 L849.9,601.0 L852.7,604.4 L852.9,604.6 L855.9,608.3 L858.9,612.1 L861.9,615.9 L864.9,619.7 L865.0,619.8 L868.0,623.7 L871.0,627.6 L874.0,631.5 L877.1,635.4 L877.4,635.8 L880.1,639.1 L883.1,642.8 L886.1,646.6 L889.1,650.4 L889.6,651.0 L892.2,654.5 L895.2,658.7 L898.2,663.0 L901.2,667.1 L901.9,668.0 L904.2,670.9 L907.3,674.5 L910.3,678.1 L913.3,681.7 L914.5,683.2 L916.3,685.6 L919.4,689.8 L922.4,694.1 L925.4,698.2 L927.0,700.1 L928.4,701.7 L931.4,704.9 L934.5,707.8 L937.5,710.8 L940.1,713.5 L940.5,714.0 L943.5,717.3 L946.6,720.8 L949.6,724.5 L952.6,728.2 L955.6,729.6 L958.6,731.0 L961.6,732.5 L964.7,734.0 L967.7,735.5 L970.7,737.0 L971.1,737.2 L973.7,738.5 L976.7,740.1 L979.7,741.7 L982.7,743.3 L985.8,745.0 L988.8,746.6 L991.8,748.3 L994.8,750.0 L997.8,751.7 L1000.8,753.5 L1003.8,755.2 L1006.0,756.5 L1006.8,757.0 L1009.9,758.8 L1012.9,760.7 L1015.9,762.5 L1018.9,764.4 L1021.9,766.4 L1024.9,768.3 L1027.9,770.3 L1031.0,772.2 L1034.0,774.2 L1037.0,776.1 L1040.0,778.0 L1040.0,778.0 L1043.0,779.9 L1046.0,781.8 L1049.0,783.8 L1052.1,785.7 L1055.1,787.6 L1058.1,789.5 L1061.1,791.4 L1064.1,793.4 L1067.1,795.2 L1070.1,797.1 L1073.1,799.0 L1074.0,799.5 L1076.2,800.8 L1079.2,802.6 L1082.2,804.4 L1085.2,806.1 L1088.2,807.9 L1091.2,809.6 L1094.2,811.4 L1097.3,813.1 L1100.3,814.9 L1103.3,816.7 L1106.3,818.5 L1108.1,819.6 L1109.3,820.4 L1112.3,822.4 L1115.3,824.4 L1118.4,826.4 L1121.4,828.3 L1122.8,829.1 L1124.4,830.0 L1127.4,831.6 L1130.4,833.1 L1133.4,834.7 L1136.4,836.1 L1139.5,837.5 L1142.5,838.9 L1145.5,840.3 L1148.5,841.6 L1151.5,843.0 L1154.5,844.3 L1157.5,845.6 L1160.5,847.0 L1161.0,847.2 L1163.6,848.4 L1166.6,849.7 L1169.6,851.1 L1172.6,852.4 L1175.6,853.8 L1178.6,855.1 L1181.6,856.4 L1184.7,857.7 L1187.7,859.0 L1190.7,860.3 L1193.7,861.5 L1196.7,862.8 L1198.0,863.3 L1199.7,864.0 L1202.7,865.2 L1205.8,866.5 L1208.8,867.7 L1211.8,869.0 L1214.8,870.2 L1217.8,871.4 L1220.8,872.6 L1223.8,873.7 L1226.8,874.8 L1229.9,875.8 L1232.9,876.8 L1235.3,877.6 L1235.9,877.8 L1238.9,878.7 L1241.9,879.5 L1244.9,880.4 L1247.9,881.2 L1251.0,881.9 L1254.0,882.7 L1257.0,883.4 L1260.0,884.1 L1263.0,884.8 L1266.0,885.6 L1269.0,886.3 L1272.1,887.0 L1273.8,887.4 L1275.1,887.7 L1278.1,888.4 L1281.1,889.2 L1284.1,889.9 L1287.1,890.7 L1290.1,891.4 L1293.1,892.2 L1296.2,892.9 L1299.2,893.6 L1302.2,894.2 L1305.2,894.9 L1308.2,895.5 L1311.2,896.1 L1313.2,896.4 L1314.2,896.6 L1317.3,897.1 L1320.3,897.6 L1323.3,898.1 L1326.3,898.5 L1329.3,899.0 L1332.3,899.4 L1335.3,899.8 L1338.4,900.2 L1341.4,900.6 L1344.4,900.9 L1347.4,901.3 L1350.4,901.6 L1352.6,901.8 L1353.4,901.9 L1356.4,902.2 L1359.5,902.5 L1362.5,902.7 L1365.5,903.0 L1368.5,903.3 L1371.5,903.5 L1374.5,903.8 L1377.5,904.0 L1380.5,904.2 L1383.6,904.4 L1386.6,904.5 L1389.6,904.7 L1392.5,904.8 L1392.6,904.8 L1395.6,904.9 L1398.6,905.0 L1401.6,905.1 L1404.7,905.2 L1407.7,905.3 L1410.7,905.4 L1413.7,905.5 L1416.7,905.5 L1419.7,905.6 L1422.7,905.6 L1425.8,905.7 L1428.8,905.7 L1431.8,905.7 L1432.6,905.7 L1434.8,905.7 L1437.8,905.7 L1440.8,905.7 L1443.8,905.7 L1446.8,905.7 L1449.9,905.7 L1452.9,905.7 L1455.9,905.7 L1458.9,905.7 L1461.9,905.7 L1464.9,905.7 L1467.9,905.7 L1471.0,905.7 L1474.0,905.7 L1477.0,905.7 L1480.0,905.7 L1483.0,910.5 L1486.0,915.2 L1486.6,916.1 L1489.0,919.8 L1492.0,924.3 L1495.0,928.8 L1497.7,932.6 L1498.0,933.0 L1501.0,937.1 L1504.0,941.1 L1507.0,944.9 L1509.8,948.3 L1510.0,948.5 L1513.0,951.9 L1516.0,955.0 L1519.0,958.1 L1522.0,961.0 L1524.0,963.0 L1525.0,964.0 L1528.0,966.9 L1531.0,969.8 L1534.0,972.6 L1537.0,975.3 L1538.5,976.6 L1540.0,977.9 L1543.0,980.3 L1546.0,982.7 L1549.0,985.0 L1552.0,987.1 L1554.0,988.4 L1555.0,989.0 L1558.0,990.7 L1561.0,992.3 L1564.0,993.8 L1567.0,995.2 L1570.0,996.6 L1572.1,997.6 L1573.0,998.0 L1576.0,999.4 L1579.0,1000.9 L1582.0,1002.3 L1585.0,1003.5 L1588.0,1004.7 L1591.0,1005.7 L1594.0,1006.6 L1597.0,1007.4 L1600.0,1008.1 L1603.0,1008.8 L1606.0,1009.4 L1609.0,1009.9 L1610.6,1010.1 L1612.0,1010.3 L1615.0,1010.7 L1618.0,1011.0 L1621.0,1011.4 L1624.0,1011.6 L1627.0,1011.8 L1630.0,1011.9 L1630.3,1011.9 L1633.0,1011.9 L1636.0,1011.9 L1639.0,1011.9 L1642.0,1011.9 L1645.0,1011.9 L1648.0,1011.9 L1650.5,1011.9 L1651.0,1011.9 L1654.0,1011.8 L1657.0,1011.6 L1660.0,1011.3 L1663.0,1011.0 L1666.0,1010.5 L1669.0,1010.1 L1672.0,1009.5 L1675.0,1009.0 L1678.0,1013.0 L1681.1,1016.7 L1684.1,1020.1 L1684.9,1020.9 L1687.2,1023.1 L1690.2,1025.9 L1693.3,1028.4 L1696.3,1030.8 L1699.3,1033.1 L1700.3,1033.8 L1702.4,1035.3 L1705.4,1037.4 L1708.5,1039.4 L1711.5,1041.3 L1714.6,1043.0 L1716.8,1044.2 L1717.6,1044.6 L1720.7,1046.2 L1723.7,1047.6 L1726.7,1049.0 L1729.8,1050.3 L1732.8,1051.4 L1735.6,1052.2 L1735.9,1052.3 L1738.9,1053.0 L1742.0,1053.7 L1745.0,1054.4 L1748.0,1054.9 L1751.1,1055.4 L1754.1,1055.7 L1755.3,1055.8 L1757.2,1055.9 L1760.2,1056.1 L1763.3,1056.3 L1766.3,1056.5 L1769.3,1056.6 L1772.4,1056.7 L1775.0,1056.7 L1775.4,1056.7 L1778.5,1056.6 L1781.5,1056.4 L1784.6,1056.2 L1787.6,1055.8 L1790.7,1055.5 L1793.7,1055.1 L1795.0,1054.9 L1796.7,1054.7 L1799.8,1054.2 L1802.8,1053.6 L1805.9,1052.9 L1808.9,1052.1 L1812.0,1051.3 L1815.0,1050.5 L1818.1,1053.3 L1821.1,1056.0 L1824.2,1058.4 L1827.2,1060.5 L1830.3,1062.2 L1831.0,1062.6 L1833.4,1063.7 L1836.4,1065.0 L1839.5,1066.2 L1842.5,1067.2 L1845.6,1068.1 L1848.7,1068.9 L1849.8,1069.2 L1851.7,1069.6 L1854.8,1070.3 L1857.8,1071.0 L1860.9,1071.6 L1863.9,1072.1 L1867.0,1072.4 L1869.9,1072.5 L1870.1,1072.5 L1873.1,1072.5 L1876.2,1072.4 L1879.2,1072.3 L1882.3,1072.2 L1885.4,1072.1 L1888.4,1072.0 L1889.9,1071.9 L1891.5,1071.8 L1894.5,1071.5 L1897.6,1071.0 L1900.7,1070.4 L1903.7,1069.7 L1906.8,1069.0 L1909.8,1068.3 L1909.8,1068.3 L1912.9,1067.6 L1915.9,1066.7 L1919.0,1065.9 L1922.1,1064.9 L1925.1,1063.9 L1928.2,1062.9 L1929.0,1062.6 L1931.2,1061.8 L1934.3,1060.7 L1937.4,1059.4 L1940.4,1058.2 L1943.5,1056.8 L1946.5,1055.4 L1949.6,1054.0 L1952.7,1055.4 L1955.7,1056.7 L1958.8,1058.0 L1961.9,1059.2 L1964.9,1060.2 L1965.3,1060.3 L1968.0,1061.1 L1971.1,1062.1 L1974.1,1063.0 L1977.2,1063.8 L1980.2,1064.5 L1983.3,1065.0 L1985.4,1065.3 L1986.4,1065.4 L1989.4,1065.7 L1992.5,1065.9 L1995.6,1066.2 L1998.6,1066.3 L2001.7,1066.5 L2004.8,1066.5 L2004.8,1066.5 L2007.8,1066.4 L2010.9,1066.3 L2014.0,1066.0 L2017.0,1065.7 L2020.1,1065.4 L2023.2,1065.0 L2024.5,1064.8 L2026.2,1064.5 L2029.3,1064.0 L2032.4,1063.2 L2035.4,1062.4 L2038.5,1061.5 L2041.5,1060.6 L2043.7,1059.9 L2044.6,1059.6 L2047.7,1058.6 L2050.7,1057.5 L2053.8,1056.3 L2056.9,1055.0 L2059.9,1053.6 L2063.0,1052.2 L2066.1,1053.6 L2069.1,1054.9 L2072.2,1056.1 L2075.2,1057.1 L2078.3,1057.9 L2081.3,1058.4 L2081.8,1058.5 L2084.4,1058.8 L2087.4,1059.0 L2090.5,1059.3 L2093.5,1059.5 L2096.6,1059.6 L2099.6,1059.7 L2101.9,1059.7 L2102.7,1059.7 L2105.7,1059.6 L2108.8,1059.4 L2111.8,1059.2 L2114.9,1058.9 L2117.9,1058.5 L2121.0,1058.1 L2122.1,1058.0 L2124.0,1057.7 L2127.1,1057.1 L2130.2,1056.3 L2133.2,1055.4 L2136.3,1054.4 L2139.3,1053.4 L2141.4,1052.8 L2142.4,1052.5 L2145.4,1051.6 L2148.5,1050.6 L2151.5,1049.5 L2154.6,1048.4 L2157.6,1047.3 L2159.7,1046.5 L2160.7,1046.1 L2163.7,1044.8 L2166.8,1043.5 L2169.8,1042.0 L2172.9,1040.5 L2175.9,1039.0 L2178.2,1037.9 L2179.0,1037.5 L2182.0,1035.9 L2185.1,1034.3 L2188.1,1032.7 L2191.2,1031.0 L2194.2,1029.3 L2197.3,1027.5 L2200.3,1027.9 L2203.4,1028.3 L2206.4,1028.7 L2209.5,1029.1 L2212.5,1029.5 L2214.7,1029.8 L2215.5,1029.9 L2218.6,1030.4 L2221.6,1031.0 L2224.7,1031.5 L2227.7,1032.0 L2230.7,1032.3 L2233.8,1032.5 L2234.4,1032.5 L2236.8,1032.5 L2239.9,1032.5 L2242.9,1032.4 L2245.9,1032.3 L2249.0,1032.2 L2252.0,1032.1 L2254.6,1032.0 L2255.1,1032.0 L2258.1,1031.7 L2261.1,1031.3 L2264.2,1030.7 L2267.2,1030.1 L2270.2,1029.4 L2273.3,1028.6 L2274.3,1028.4 L2276.3,1027.9 L2279.4,1027.1 L2282.4,1026.1 L2285.4,1025.1 L2288.5,1024.1 L2291.5,1023.0 L2293.5,1022.3 L2294.6,1021.9 L2297.6,1020.9 L2300.6,1019.7 L2303.7,1018.6 L2306.7,1017.4 L2309.8,1016.2 L2312.8,1015.0 L2315.8,1015.7 L2318.8,1016.4 L2321.8,1017.1 L2324.8,1017.6 L2327.8,1018.0 L2330.8,1018.2 L2332.0,1018.2 L2333.8,1018.2 L2336.8,1018.2 L2339.8,1018.2 L2342.9,1018.2 L2345.9,1018.2 L2348.9,1018.2 L2351.9,1018.2 L2352.2,1018.2 L2354.9,1018.1 L2357.9,1017.9 L2360.9,1017.5 L2363.9,1017.0 L2366.9,1016.4 L2369.9,1015.9 L2371.9,1015.5 L2372.9,1015.3 L2375.9,1014.7 L2378.9,1014.1 L2381.9,1013.3 L2384.9,1012.6 L2387.9,1011.8 L2390.9,1010.9 L2391.6,1010.7 L2393.9,1010.0 L2396.9,1008.9 L2399.9,1007.8 L2403.0,1006.7 L2406.0,1005.5 L2409.0,1004.3 L2410.1,1003.9 L2412.0,1003.2 L2415.0,1002.1 L2418.0,1001.0 L2421.0,999.9 L2424.0,998.8 L2424.8,998.5 L2427.0,997.7 L2430.0,996.5" stroke="#b446ff" stroke-dasharray="10.9 9.1"/>
</g>
<rect x="1890" y="55" width="505" height="735" fill="#ffffff" stroke="#262626" stroke-width="4"/>
<path d="M1968,121 H2168" stroke="#0000ff" stroke-width="14.0" fill="none"/>
<path d="M1968,236 H2168" stroke="#ff0000" stroke-width="14.0" fill="none"/>
<path d="M1968,351 H2168" stroke="#ff00ff" stroke-width="14.0" fill="none"/>
<path d="M1968,471 H2168" stroke="#7e2f8e" stroke-width="14.0" stroke-dasharray="10.9 9.1" fill="none"/>
<path d="M1968,596 H2168" stroke="#ff6929" stroke-width="14.0" stroke-dasharray="10.9 9.1" fill="none"/>
<path d="M1968,720 H2168" stroke="#b446ff" stroke-width="14.0" stroke-dasharray="10.9 9.1" fill="none"/>
<text class="mi" font-size="100" transform="matrix(1.0538,0,0,1.0210,2181.59,144.75)">V</text>
<text class="mi" font-size="100" transform="matrix(0.7622,0,0,0.7343,2235.56,159.32)">C</text>
<text class="mr" font-size="100" transform="matrix(0.4573,0,0,0.4696,2283.08,168.10)">1</text>
<text class="mi" font-size="100" transform="matrix(1.0538,0,0,1.0210,2181.59,259.75)">V</text>
<text class="mi" font-size="100" transform="matrix(0.7622,0,0,0.7343,2235.56,274.32)">C</text>
<text class="mr" font-size="100" transform="matrix(0.4864,0,0,0.4667,2283.46,282.90)">2</text>
<text class="mi" font-size="100" transform="matrix(1.0110,0,0,0.9832,2185.17,375.10)">i</text>
<text class="mi" font-size="100" transform="matrix(0.7964,0,0,0.6857,2217.73,387.90)">E</text>
<text class="mi" font-size="100" transform="matrix(1.0110,0,0,0.9832,2185.17,748.10)">i</text>
<text class="mi" font-size="100" transform="matrix(0.7964,0,0,0.6857,2217.73,760.90)">E</text>
<text class="mh" font-size="100" transform="matrix(0.4154,0,0,0.5736,2181.70,700.11)">^</text>
<text class="mh" font-size="100" transform="matrix(0.4281,0,0,0.5956,2202.56,451.32)">^</text>
<text class="mi" font-size="100" transform="matrix(1.0538,0,0,1.0150,2181.59,499.36)">V</text>
<text class="mi" font-size="100" transform="matrix(0.6785,0,0,0.6342,2236.71,513.18)">c</text>
<text class="mr" font-size="100" transform="matrix(0.4658,0,0,0.4650,2264.61,522.80)">1</text>
<text class="mh" font-size="100" transform="matrix(0.4281,0,0,0.5956,2202.56,576.32)">^</text>
<text class="mi" font-size="100" transform="matrix(1.0538,0,0,1.0150,2181.59,624.36)">V</text>
<text class="mi" font-size="100" transform="matrix(0.6785,0,0,0.6342,2236.71,638.18)">c</text>
<text class="mr" font-size="100" transform="matrix(0.4789,0,0,0.4667,2264.80,647.80)">2</text>
</svg></body></html>
